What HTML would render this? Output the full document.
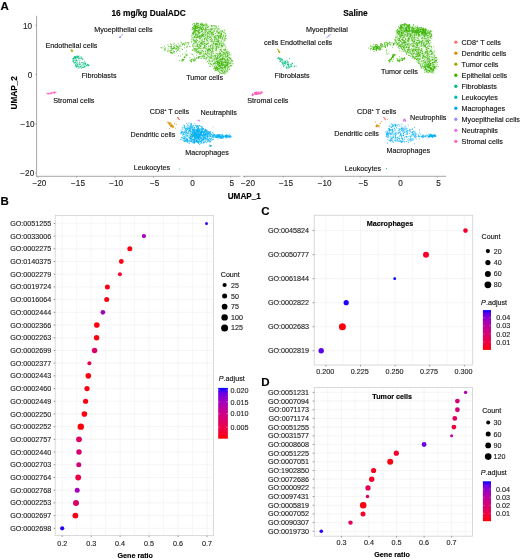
<!DOCTYPE html>
<html><head><meta charset="utf-8"><title>Figure</title>
<style>
html,body{margin:0;padding:0;background:#fff;}
body{width:520px;height:559px;overflow:hidden;}
svg{display:block;font-family:'Liberation Sans', Arial, Helvetica, sans-serif;}
text{stroke-width:0.14px;}
</style></head><body>
<svg width="520" height="559" viewBox="0 0 520 559">
<rect width="520" height="559" fill="#fff"/>
<text x="0.60" y="9.90" font-size="11.5" font-weight="bold" fill="#000" stroke="#000">A</text>
<text x="148.60" y="15.80" font-size="8.3" text-anchor="middle" font-weight="bold" fill="#000" stroke="#000">16 mg/kg DualADC</text>
<text x="355.50" y="15.80" font-size="8.3" text-anchor="middle" font-weight="bold" fill="#000" stroke="#000">Saline</text>
<line x1="36.60" y1="15.80" x2="36.60" y2="176.60" stroke="#8a8a8a" stroke-width="0.75"/>
<line x1="36.30" y1="176.30" x2="240.50" y2="176.30" stroke="#8a8a8a" stroke-width="0.75"/>
<line x1="242.80" y1="176.30" x2="446.20" y2="176.30" stroke="#8a8a8a" stroke-width="0.75"/>
<line x1="35.30" y1="25.30" x2="36.60" y2="25.30" stroke="#8a8a8a" stroke-width="0.7"/>
<text x="32.10" y="28.54" font-size="8.2" text-anchor="end" fill="#262626" stroke="#262626">10</text>
<line x1="35.30" y1="74.60" x2="36.60" y2="74.60" stroke="#8a8a8a" stroke-width="0.7"/>
<text x="32.30" y="77.79" font-size="8.2" text-anchor="end" fill="#262626" stroke="#262626">0</text>
<line x1="35.30" y1="123.90" x2="36.60" y2="123.90" stroke="#8a8a8a" stroke-width="0.7"/>
<text x="34.50" y="127.29" font-size="8.2" text-anchor="end" fill="#262626" stroke="#262626">−10</text>
<line x1="35.30" y1="173.20" x2="36.60" y2="173.20" stroke="#8a8a8a" stroke-width="0.7"/>
<text x="34.20" y="176.34" font-size="8.2" text-anchor="end" fill="#262626" stroke="#262626">−20</text>
<line x1="38.00" y1="176.30" x2="38.00" y2="177.60" stroke="#8a8a8a" stroke-width="0.7"/>
<text x="39.35" y="185.95" font-size="8.2" text-anchor="middle" fill="#262626" stroke="#262626">−20</text>
<line x1="244.70" y1="176.30" x2="244.70" y2="177.60" stroke="#8a8a8a" stroke-width="0.7"/>
<text x="248.00" y="185.95" font-size="8.2" text-anchor="middle" fill="#262626" stroke="#262626">−20</text>
<line x1="76.52" y1="176.30" x2="76.52" y2="177.60" stroke="#8a8a8a" stroke-width="0.7"/>
<text x="78.00" y="185.95" font-size="8.2" text-anchor="middle" fill="#262626" stroke="#262626">−15</text>
<line x1="283.22" y1="176.30" x2="283.22" y2="177.60" stroke="#8a8a8a" stroke-width="0.7"/>
<text x="286.00" y="185.95" font-size="8.2" text-anchor="middle" fill="#262626" stroke="#262626">−15</text>
<line x1="115.04" y1="176.30" x2="115.04" y2="177.60" stroke="#8a8a8a" stroke-width="0.7"/>
<text x="116.10" y="185.95" font-size="8.2" text-anchor="middle" fill="#262626" stroke="#262626">−10</text>
<line x1="321.74" y1="176.30" x2="321.74" y2="177.60" stroke="#8a8a8a" stroke-width="0.7"/>
<text x="324.70" y="185.95" font-size="8.2" text-anchor="middle" fill="#262626" stroke="#262626">−10</text>
<line x1="153.56" y1="176.30" x2="153.56" y2="177.60" stroke="#8a8a8a" stroke-width="0.7"/>
<text x="154.60" y="185.95" font-size="8.2" text-anchor="middle" fill="#262626" stroke="#262626">−5</text>
<line x1="360.26" y1="176.30" x2="360.26" y2="177.60" stroke="#8a8a8a" stroke-width="0.7"/>
<text x="363.40" y="185.95" font-size="8.2" text-anchor="middle" fill="#262626" stroke="#262626">−5</text>
<line x1="192.08" y1="176.30" x2="192.08" y2="177.60" stroke="#8a8a8a" stroke-width="0.7"/>
<text x="192.50" y="185.95" font-size="8.2" text-anchor="middle" fill="#262626" stroke="#262626">0</text>
<line x1="398.78" y1="176.30" x2="398.78" y2="177.60" stroke="#8a8a8a" stroke-width="0.7"/>
<text x="400.60" y="185.95" font-size="8.2" text-anchor="middle" fill="#262626" stroke="#262626">0</text>
<line x1="230.60" y1="176.30" x2="230.60" y2="177.60" stroke="#8a8a8a" stroke-width="0.7"/>
<text x="231.70" y="185.95" font-size="8.2" text-anchor="middle" fill="#262626" stroke="#262626">5</text>
<line x1="437.30" y1="176.30" x2="437.30" y2="177.60" stroke="#8a8a8a" stroke-width="0.7"/>
<text x="438.50" y="185.95" font-size="8.2" text-anchor="middle" fill="#262626" stroke="#262626">5</text>
<text x="244.30" y="199.40" font-size="8.2" text-anchor="middle" font-weight="bold" fill="#000" stroke="#000">UMAP_1</text>
<text x="0" y="0" font-size="8.2" font-weight="bold" fill="#000" stroke="#000" text-anchor="middle" transform="translate(17.3 92.9) rotate(-90)">UMAP_2</text>
<polygon points="193,24 200,22.8 207,23.8 213,25.3 218,26.8 222,29 225.5,32 226,37 225,42 225,46 227,50 230,54 232,58 232.5,63 231,68 228.5,72 224,74 219,73.5 215,70.5 211,66 207.5,62 204,58 200,55 197,52 194,48.5 192.5,44 192,38 192,32 192.3,27" fill="#39B600" fill-opacity="0.10"/>
<path d="M205.2 29.9h0M214.2 41.5h0M194.4 48.5h0M193.9 45.1h0M195.6 27.7h0M196.6 34.1h0M218.0 71.1h0M215.6 43.5h0M197.7 27.3h0M199.4 52.7h0M218.0 41.4h0M215.0 25.9h0M194.0 32.9h0M219.8 44.0h0M204.0 54.1h0M211.2 38.9h0M225.1 59.0h0M200.7 53.0h0M214.1 67.9h0M220.2 38.4h0M209.9 61.2h0M198.2 48.4h0M222.9 52.9h0M220.2 53.7h0M215.5 45.2h0M225.3 73.3h0M211.4 57.7h0M226.1 38.5h0M208.0 56.6h0M198.8 27.5h0M197.1 36.1h0M193.8 45.9h0M214.8 68.9h0M224.6 66.6h0M202.0 43.4h0M199.5 36.1h0M200.7 48.6h0M216.1 35.9h0M208.4 50.1h0M230.6 58.3h0M214.3 55.6h0M230.0 62.8h0M228.1 64.6h0M208.2 43.5h0M194.4 26.0h0M199.6 32.4h0M205.5 24.1h0M196.3 41.4h0M217.0 31.6h0M202.1 40.4h0M206.2 29.1h0M210.6 47.7h0M197.6 28.3h0M205.3 37.7h0M214.0 30.9h0M227.5 59.0h0M203.0 42.5h0M214.3 63.6h0M205.0 34.2h0M224.4 73.9h0M227.1 63.8h0M225.5 62.5h0M202.0 48.5h0M206.3 24.7h0M193.1 37.4h0M201.7 34.6h0M199.2 33.8h0M217.2 69.0h0M218.1 62.8h0M228.0 62.6h0M221.7 45.4h0M222.1 30.7h0M196.7 30.9h0M227.0 65.0h0M205.7 51.3h0M197.0 23.7h0M225.5 33.6h0M201.0 36.8h0M201.7 53.8h0M202.1 44.6h0M206.4 46.6h0M216.3 68.1h0M212.5 49.9h0M209.6 31.6h0M198.4 46.3h0M220.6 53.0h0M206.4 49.3h0M215.0 62.3h0M200.2 35.7h0M223.4 49.8h0M214.7 61.0h0M216.6 48.0h0M211.8 58.1h0M210.0 49.6h0M219.7 67.0h0M197.1 46.4h0M194.8 36.6h0M222.6 68.9h0M218.0 30.0h0M208.2 48.1h0M199.3 44.5h0M212.0 40.0h0M200.1 38.6h0M215.0 46.5h0M191.8 40.0h0M218.0 47.7h0M224.1 72.4h0M195.3 37.3h0M203.1 29.1h0M225.5 36.5h0M215.6 59.1h0M195.9 24.9h0M219.6 44.7h0M215.8 65.3h0M210.1 39.4h0M201.6 29.6h0M213.4 34.6h0M196.1 30.5h0M193.5 33.1h0M204.2 38.9h0M222.7 37.7h0M212.5 32.8h0M206.5 23.9h0M202.0 23.0h0M221.5 51.5h0M199.8 46.8h0M211.1 64.5h0M208.1 49.4h0M220.1 72.2h0M220.5 55.5h0M207.8 40.8h0M194.1 28.9h0M201.5 31.7h0M227.5 56.5h0M202.7 35.8h0M204.3 46.1h0M199.5 45.4h0M203.8 41.8h0M211.1 48.8h0M200.2 48.0h0M191.4 36.2h0M196.6 42.6h0M194.6 24.1h0M203.6 34.9h0M216.1 49.3h0M220.9 56.7h0M220.2 68.1h0M206.5 39.4h0M220.8 54.7h0M228.0 55.0h0M221.3 63.6h0M197.8 48.4h0M212.8 65.9h0M225.7 65.7h0M215.9 68.7h0M219.7 57.4h0M202.3 24.8h0M197.2 40.5h0M215.6 55.3h0M216.6 58.1h0M225.6 61.1h0M212.6 49.9h0M221.4 36.4h0M197.1 36.5h0M221.5 33.8h0M221.8 73.3h0M212.6 41.7h0M210.7 57.8h0M223.6 54.6h0M198.8 34.9h0M222.4 38.0h0M194.5 36.8h0M218.6 58.1h0M218.6 37.9h0M212.3 46.3h0M211.0 28.4h0M226.0 71.9h0M210.8 36.7h0M199.8 52.4h0M197.2 49.4h0M225.0 50.1h0M227.6 59.9h0M210.6 37.4h0M196.1 40.9h0M228.2 59.8h0M207.8 43.2h0M206.5 44.5h0M203.3 25.1h0M201.7 36.2h0M213.5 32.1h0M228.1 63.6h0M217.1 68.6h0M221.5 46.3h0M222.7 55.5h0M204.0 25.1h0M211.4 40.6h0M218.9 36.5h0M213.7 43.5h0M198.7 32.6h0M212.0 33.7h0M211.2 30.3h0M201.1 27.8h0M205.7 28.0h0M201.2 35.7h0M214.7 68.1h0M222.9 43.6h0M209.0 49.3h0M207.9 38.3h0M194.4 37.1h0M211.7 55.7h0M203.1 36.4h0M208.8 46.1h0M230.5 65.5h0M225.3 66.3h0M196.6 30.4h0M215.2 56.6h0M230.9 59.4h0M218.1 62.6h0M210.5 50.2h0M218.4 38.2h0M195.8 35.8h0M217.1 58.1h0M196.9 26.6h0M213.0 54.1h0M208.0 33.8h0M204.4 46.3h0M229.3 54.7h0M200.6 36.8h0M230.8 58.7h0M204.1 24.6h0M212.2 58.5h0M209.5 37.1h0M218.9 70.4h0M200.9 24.4h0M204.5 43.9h0M219.0 32.5h0M225.1 60.8h0M213.3 33.9h0M225.8 35.3h0M211.7 32.9h0M200.8 43.8h0M219.8 72.8h0M197.3 44.1h0M198.3 24.9h0M194.6 43.2h0M228.6 67.8h0M218.0 42.2h0M207.7 40.3h0M203.8 41.5h0M193.3 47.0h0M200.0 42.1h0M193.5 26.4h0M222.4 70.2h0M204.3 36.7h0M206.5 37.1h0M227.9 55.3h0M200.5 46.7h0M207.8 36.8h0M209.7 48.5h0M225.2 60.7h0M224.7 62.3h0M216.8 39.4h0M204.5 41.1h0M201.0 25.4h0M202.7 26.9h0M195.9 49.3h0M220.9 45.7h0M200.7 43.4h0M217.4 56.7h0M222.6 65.4h0M219.0 29.0h0M215.6 41.6h0M221.6 33.2h0M202.1 36.5h0M215.2 39.1h0M212.3 35.0h0M224.9 56.7h0M210.3 66.4h0M227.3 69.6h0M192.8 37.9h0M197.1 31.0h0M216.2 53.5h0M201.1 42.6h0M198.4 32.2h0M203.3 54.1h0M218.1 33.6h0M193.5 39.3h0M219.5 31.9h0M205.4 31.8h0M225.2 50.2h0M195.2 26.9h0M207.4 50.6h0M218.4 26.4h0M209.0 36.9h0M205.5 51.6h0M206.8 44.0h0M207.9 32.7h0M221.5 34.6h0M210.7 31.6h0M217.5 69.5h0M205.5 48.7h0M197.5 36.3h0M195.5 48.7h0M224.9 71.3h0M201.2 28.8h0M211.3 25.7h0M227.9 53.5h0M223.3 35.0h0M201.5 42.2h0M213.8 42.5h0M197.3 35.5h0M221.6 68.1h0M215.7 50.5h0M217.1 38.9h0M208.2 53.7h0M208.8 56.1h0M210.6 45.5h0M211.6 34.1h0M222.3 61.7h0M211.3 32.7h0M212.4 28.6h0M197.4 45.4h0M196.4 45.3h0M218.0 28.5h0M220.6 61.7h0M212.1 26.1h0M213.2 41.9h0M222.1 64.5h0M224.1 70.1h0M194.6 40.8h0M223.4 32.4h0M199.2 36.6h0M212.5 39.8h0M194.2 32.6h0M220.1 68.0h0M195.5 51.1h0M218.6 40.6h0M228.2 51.7h0M213.8 68.6h0M216.8 43.8h0M223.8 35.9h0M208.9 31.7h0M225.9 35.3h0M214.5 58.2h0M194.6 30.9h0M216.6 44.1h0M196.2 34.8h0M197.2 40.4h0M201.1 52.5h0M215.7 33.6h0M218.7 46.7h0M202.4 31.2h0M227.1 62.7h0M207.4 37.1h0M214.4 40.3h0M218.2 44.9h0M229.3 60.2h0M209.4 34.8h0M200.4 52.9h0M211.2 56.9h0M224.7 30.7h0M204.5 38.6h0M222.5 58.8h0M222.4 46.0h0M222.6 46.6h0M201.4 27.9h0M201.4 24.4h0M220.1 66.3h0M220.6 37.1h0M216.2 44.8h0M224.2 50.1h0M203.2 55.5h0M202.2 35.6h0M222.5 71.5h0M221.7 40.0h0M218.1 58.1h0M219.4 74.4h0M209.7 66.2h0M219.5 65.8h0M209.5 60.3h0M215.1 37.8h0M199.6 54.3h0M197.9 23.6h0M204.9 31.2h0M192.6 24.8h0M219.7 54.9h0M220.3 60.3h0M225.6 67.6h0M195.3 34.7h0M196.5 25.1h0M227.1 64.8h0M217.7 64.0h0M216.5 38.2h0M196.5 28.2h0M221.5 31.9h0M204.2 43.7h0M193.0 35.3h0M208.0 38.8h0M226.1 55.0h0M193.5 43.3h0M210.2 63.7h0M205.2 58.7h0M213.1 32.6h0M192.5 33.6h0M223.5 73.2h0M210.5 63.6h0M199.0 47.3h0M202.7 34.3h0M220.1 49.6h0M220.6 61.8h0M218.0 41.9h0M208.3 42.2h0M201.6 35.4h0M201.4 45.1h0M212.7 60.3h0M223.2 56.7h0M205.8 38.6h0M218.8 61.0h0M197.8 44.5h0M223.3 52.9h0M197.2 46.8h0M198.9 36.5h0M220.7 65.4h0M198.2 30.5h0M202.4 39.0h0M214.1 31.1h0M205.6 32.9h0M232.2 60.4h0M194.9 42.0h0M233.1 63.8h0M222.1 45.4h0M195.9 32.9h0M207.3 25.3h0M220.3 49.6h0M218.0 47.8h0M208.7 59.9h0M216.4 61.4h0M209.9 34.6h0M221.0 68.0h0M222.6 57.8h0M225.9 57.2h0M217.1 46.0h0M204.9 56.4h0M197.2 44.2h0M224.3 59.2h0M217.8 35.6h0M208.8 46.2h0M216.2 44.1h0M219.1 69.7h0M223.3 43.1h0M213.4 59.9h0M213.1 56.6h0M224.8 49.4h0M208.2 62.9h0M206.6 26.2h0M202.1 42.9h0M210.2 58.4h0M207.8 35.9h0M207.7 32.6h0M225.2 55.5h0M212.4 51.7h0M206.1 54.5h0M225.1 65.2h0M211.5 38.7h0M214.8 29.2h0M207.7 35.9h0M208.3 33.5h0M203.6 34.6h0M204.5 47.6h0M210.0 56.4h0M216.6 41.7h0M230.7 65.9h0M227.4 63.1h0M218.8 35.8h0M195.3 29.8h0M206.2 31.1h0M230.1 63.5h0M216.2 61.2h0M219.8 68.5h0M223.8 65.1h0M214.0 59.5h0M214.6 36.4h0M201.7 30.8h0M211.9 25.9h0M211.5 29.1h0M211.7 48.4h0M214.5 66.4h0M211.5 51.9h0M217.9 64.8h0M206.2 44.3h0M217.9 55.9h0M220.2 70.1h0M213.4 48.2h0M221.4 55.1h0M205.9 47.3h0M212.6 61.4h0M200.3 45.2h0M209.1 50.9h0M224.8 37.9h0M211.9 35.7h0M218.6 64.4h0M205.1 38.3h0M205.1 54.0h0M217.5 62.8h0M194.2 40.2h0M192.3 33.2h0M229.6 52.7h0M217.9 62.3h0M229.1 54.2h0M218.2 54.7h0M220.4 53.4h0M219.7 35.3h0M219.2 47.3h0M200.2 24.3h0M223.8 69.3h0M218.6 41.8h0M225.3 62.7h0M215.9 35.8h0M204.7 45.6h0M205.3 45.6h0M219.0 71.4h0M194.8 27.9h0M226.2 52.3h0M191.4 42.2h0M215.0 70.8h0M207.7 27.3h0M218.3 33.8h0M197.6 23.4h0M197.2 23.8h0M221.1 35.0h0M222.3 31.3h0M220.6 66.7h0M217.2 58.7h0M211.4 26.0h0M207.8 52.1h0M209.6 57.7h0M206.5 54.5h0M217.7 43.9h0M229.9 63.4h0M215.0 37.4h0M219.0 64.0h0M205.5 53.7h0M231.9 65.5h0M216.0 37.7h0M206.5 57.8h0M215.6 69.2h0M223.8 36.1h0M191.9 35.0h0M210.3 52.1h0M225.0 68.1h0M224.3 66.0h0M213.9 37.4h0M227.2 65.6h0M218.7 70.0h0M206.0 27.7h0M214.1 64.1h0M217.2 57.9h0M211.9 33.3h0M225.1 45.8h0M224.4 32.8h0M215.5 68.2h0M211.3 53.7h0M200.2 32.7h0M207.9 50.7h0M207.7 50.3h0M198.3 23.6h0M224.1 30.0h0M217.2 41.3h0M214.6 37.1h0M223.0 45.3h0M230.7 62.0h0M224.2 71.9h0M200.7 24.3h0M198.8 32.9h0M194.7 23.7h0M215.0 67.6h0M215.9 44.6h0M203.0 51.7h0M217.5 69.7h0M219.5 43.6h0M209.7 30.0h0M201.0 23.6h0M202.4 41.4h0M229.6 69.3h0M224.0 59.7h0M195.2 30.0h0M221.7 70.3h0M218.5 37.5h0M215.9 61.8h0M196.4 39.4h0M202.2 29.5h0M212.1 32.0h0M202.7 29.9h0M220.9 34.0h0M227.2 68.6h0M197.4 46.4h0M225.8 54.3h0M210.3 39.9h0M225.9 47.0h0M217.5 30.0h0M201.2 25.3h0M221.7 50.1h0M202.5 43.4h0M198.8 36.7h0M199.1 47.7h0M218.6 32.8h0M211.1 37.1h0M202.6 33.4h0M196.6 37.5h0M220.9 37.1h0M224.7 40.5h0M227.1 49.9h0M200.8 46.4h0M214.4 30.7h0M221.6 33.8h0M195.2 27.9h0M216.3 48.1h0M203.1 34.6h0M216.7 59.7h0M224.9 52.1h0M200.4 26.6h0M221.2 44.1h0M224.3 39.3h0M226.3 66.9h0M206.2 30.0h0M207.0 53.4h0M209.7 49.3h0M224.0 67.4h0M207.7 61.5h0M212.4 50.0h0M199.5 28.8h0M193.4 27.9h0M219.8 33.4h0M216.2 49.2h0M227.7 59.7h0M193.8 28.2h0M213.2 47.1h0M203.5 28.8h0M209.2 29.5h0M216.0 67.3h0M198.3 51.8h0M222.7 31.5h0M226.1 70.4h0M207.7 44.1h0M225.4 49.9h0M223.8 41.1h0M201.5 40.2h0M225.4 69.5h0M225.1 66.3h0M201.6 43.7h0M218.4 41.6h0M213.4 25.5h0M209.6 49.5h0M192.0 29.3h0M232.0 63.6h0M231.0 54.8h0M225.2 67.6h0M218.3 36.2h0M219.6 37.7h0M217.4 35.5h0M213.1 45.2h0M204.0 56.1h0M203.3 47.8h0M212.2 29.6h0M196.2 30.1h0M205.6 43.7h0M203.8 36.1h0M224.3 53.9h0M212.9 56.2h0M210.3 50.5h0M217.1 46.4h0M205.3 35.2h0M201.2 50.8h0M207.2 53.4h0M191.9 41.7h0M215.2 48.1h0M199.1 27.3h0M195.5 42.7h0M209.8 61.2h0M195.4 33.9h0M231.2 61.0h0M199.5 41.3h0M206.5 57.7h0M216.0 66.2h0M225.4 49.2h0M222.0 61.3h0M222.1 46.7h0M222.6 59.9h0M222.3 51.6h0M215.7 44.0h0M224.4 67.2h0M218.1 42.7h0M210.4 46.3h0M221.1 38.4h0M209.2 50.9h0M206.8 39.7h0M224.6 65.3h0M211.8 44.8h0M199.8 38.7h0M197.4 51.5h0M216.0 25.9h0M226.6 65.6h0M216.2 49.0h0M228.9 62.2h0M212.8 48.8h0M219.8 43.4h0M205.4 53.1h0M220.4 50.2h0M195.4 41.4h0M207.6 50.4h0M216.0 67.9h0M209.3 53.8h0M213.2 64.2h0M200.1 38.8h0M231.7 65.8h0M213.2 28.3h0M226.7 59.1h0M198.7 37.3h0M212.7 48.0h0M199.0 31.1h0M217.9 54.0h0M208.8 63.7h0M204.8 58.2h0M191.6 38.8h0M226.9 53.2h0M219.9 32.5h0M211.5 52.0h0M202.4 56.1h0M215.1 43.9h0M196.7 30.5h0M194.8 32.8h0M213.3 63.6h0M216.2 63.3h0M222.7 37.6h0M221.4 42.0h0M198.7 37.0h0M216.0 39.8h0M211.1 41.4h0M209.4 54.3h0M203.0 25.1h0M229.6 66.0h0M225.1 38.4h0M202.3 43.7h0M221.6 34.1h0M211.5 64.5h0M202.0 31.7h0M207.7 33.4h0M215.1 28.6h0M213.2 43.3h0M208.0 26.8h0M205.7 35.4h0M200.0 37.4h0M201.8 24.8h0M218.1 39.5h0M195.7 37.8h0M206.2 59.2h0M212.0 34.5h0M211.1 29.1h0M221.0 36.3h0M228.2 52.2h0M206.8 34.9h0M217.0 32.5h0M213.5 51.1h0M208.0 57.5h0M215.4 37.5h0M207.8 27.5h0M204.5 56.0h0M206.9 48.8h0M203.7 26.0h0M204.3 34.0h0M203.4 44.2h0M227.7 62.2h0M228.9 67.1h0M197.5 37.5h0M218.2 40.0h0M207.6 55.5h0M220.5 36.1h0M217.2 31.6h0M222.0 59.7h0M193.8 23.5h0M198.2 31.2h0M204.4 41.7h0M193.1 39.7h0M218.8 32.3h0M226.2 52.1h0M220.6 35.8h0M210.9 57.2h0M225.3 62.7h0M204.2 25.6h0M225.9 53.8h0M193.7 34.5h0M220.2 42.6h0M222.9 65.5h0M202.9 27.5h0M229.4 57.8h0M221.6 66.0h0M217.2 44.8h0M208.8 49.6h0M221.9 63.3h0M202.3 50.6h0M213.1 35.9h0M194.4 41.3h0M210.2 32.9h0M205.1 30.4h0M220.2 56.7h0M202.7 35.7h0M213.0 44.8h0M198.3 52.0h0M215.7 62.7h0M216.8 46.6h0M223.1 65.0h0M196.8 37.8h0M207.0 34.1h0M194.7 36.8h0M210.7 29.6h0M204.6 47.1h0M207.1 31.8h0M232.5 61.2h0M196.3 49.0h0M210.8 31.6h0M227.5 56.1h0M217.0 70.3h0M217.3 35.9h0M201.9 29.5h0M226.9 71.9h0M226.6 61.6h0M205.0 32.7h0M225.4 40.0h0M207.3 51.0h0M202.1 24.4h0M215.5 56.0h0M225.0 59.3h0M227.5 71.8h0M212.6 47.7h0M199.6 38.2h0M214.4 26.0h0M220.5 31.0h0M196.4 23.8h0M209.7 33.2h0M225.6 67.1h0M223.6 44.8h0M203.7 58.2h0M212.0 44.9h0M206.6 44.5h0M219.0 66.7h0M204.7 43.5h0M214.7 39.5h0M200.1 26.7h0M204.7 45.8h0M219.6 53.7h0M203.4 51.9h0M218.5 37.5h0M193.9 31.3h0M219.8 45.4h0M208.1 52.1h0M208.4 49.0h0M216.2 43.5h0M195.9 31.8h0M201.6 28.7h0M213.8 34.3h0M212.0 51.8h0M201.2 52.4h0M196.5 49.2h0M216.0 26.4h0M208.8 26.7h0M214.3 58.9h0M231.4 59.9h0M208.4 29.9h0M201.2 42.8h0M201.3 37.7h0M221.6 43.9h0M227.5 55.9h0M227.0 51.5h0M228.0 66.7h0M218.8 65.0h0M195.7 42.6h0M221.6 70.9h0M216.0 28.4h0M215.3 63.6h0M220.4 36.9h0M200.7 45.9h0M224.9 53.0h0M196.3 24.0h0M198.2 51.0h0M207.6 29.5h0M220.1 65.3h0M206.0 30.1h0M221.1 41.4h0M210.6 31.2h0M227.0 52.5h0M195.3 40.2h0M198.3 42.3h0M211.3 53.2h0M206.7 40.9h0M206.6 25.2h0M194.7 30.3h0M219.3 36.3h0M203.8 47.9h0M202.7 50.5h0M213.7 63.5h0M227.4 62.6h0M216.1 55.3h0M208.1 36.2h0M222.6 67.4h0M229.7 57.5h0M221.1 47.9h0M216.9 41.2h0M214.3 44.1h0M193.7 40.5h0M211.2 41.7h0M202.5 34.8h0M205.9 28.6h0M210.4 46.1h0M214.6 38.2h0M197.6 25.3h0M204.5 39.5h0M221.2 49.9h0M195.0 30.9h0M194.6 48.9h0M202.6 23.9h0M199.4 36.3h0M220.8 34.1h0M208.5 32.0h0M216.9 67.6h0M216.7 31.0h0M221.1 73.1h0M216.4 27.3h0M225.2 68.2h0M205.4 29.4h0M199.9 50.7h0M227.9 55.8h0M217.9 44.3h0M219.8 40.8h0M192.6 44.7h0M203.9 48.3h0M215.8 36.0h0M216.5 59.7h0M205.5 27.8h0M197.8 28.4h0M224.4 44.8h0M213.2 53.2h0M214.2 55.8h0M217.2 40.9h0M221.9 36.0h0M221.5 61.0h0M222.8 39.4h0M223.9 72.5h0M209.8 37.3h0M196.4 22.9h0M211.1 54.7h0M164.5 46.2h0M178.3 49.8h0M170.5 52.9h0M177.0 46.6h0M174.9 47.7h0M171.3 52.3h0M170.8 48.1h0M174.8 45.8h0M172.0 49.0h0M184.4 45.0h0M171.5 46.5h0M171.2 52.5h0M176.7 45.2h0M170.3 51.4h0M165.0 49.9h0M173.5 44.2h0M182.0 49.2h0M165.6 49.0h0M173.5 46.5h0M167.9 44.7h0M181.9 44.0h0M170.9 50.5h0M161.8 48.1h0M181.1 42.4h0M173.6 51.1h0M177.8 47.2h0M170.4 46.6h0M171.9 49.9h0M184.4 47.9h0M172.8 49.7h0M177.7 50.4h0M172.7 53.0h0M179.1 45.6h0M171.7 45.1h0M169.9 50.7h0M168.1 49.0h0M175.2 45.2h0M188.6 43.0h0M164.6 50.8h0M178.2 46.9h0M188.9 43.0h0M184.1 43.2h0M187.0 47.1h0M182.5 45.0h0M182.6 49.5h0M163.0 47.7h0M182.4 44.5h0M180.3 45.2h0M171.5 52.6h0M173.2 48.6h0M174.1 51.9h0M172.4 52.9h0M174.7 43.4h0M183.2 43.7h0M181.1 42.6h0M183.0 43.5h0M179.7 46.3h0M167.7 51.4h0M161.0 47.5h0M187.7 42.4h0M174.4 47.4h0M170.6 52.7h0M185.3 43.4h0M165.8 47.8h0M170.4 43.9h0M184.4 44.9h0M188.3 44.5h0M179.6 48.1h0M186.5 47.1h0M183.1 44.7h0M174.4 51.5h0M165.0 49.9h0M177.2 46.7h0M174.6 47.7h0M168.3 46.2h0M177.2 50.8h0M178.3 43.9h0M187.5 46.2h0M164.4 48.7h0M190.0 46.4h0M171.3 48.0h0M176.1 48.7h0M175.9 49.5h0M171.2 46.8h0M178.6 47.6h0M168.9 51.8h0M171.3 46.8h0M177.1 46.5h0M171.2 50.4h0M171.4 53.0h0M174.3 53.3h0M174.4 48.6h0M171.9 48.1h0M172.4 48.5h0M176.5 46.2h0M171.1 44.7h0M178.8 48.4h0M174.0 48.4h0M177.2 49.1h0M176.7 48.2h0M173.6 48.4h0M168.0 50.5h0M169.0 46.7h0M176.1 48.6h0M176.6 51.6h0M180.0 51.0h0M173.3 52.2h0M171.2 48.3h0M177.2 48.1h0M173.6 47.9h0M227.7 67.3h0M221.7 64.8h0M217.6 67.5h0M228.3 61.7h0M220.5 59.6h0M221.1 55.7h0M215.9 70.3h0M221.9 64.8h0M223.4 64.4h0M215.1 57.3h0M224.8 67.0h0M216.8 59.1h0M217.2 65.3h0M223.5 62.2h0M219.1 63.7h0M222.1 58.3h0M223.5 58.7h0M226.3 65.1h0M218.9 64.9h0M222.3 58.5h0M217.9 53.7h0M216.9 63.7h0M227.4 58.9h0M222.7 63.7h0M225.5 64.2h0M227.5 65.8h0M218.6 64.0h0M211.5 61.1h0M222.1 64.9h0M220.6 66.2h0M227.9 57.8h0M219.6 63.3h0M224.2 62.7h0M225.7 56.1h0M225.5 67.8h0M227.0 64.1h0M220.9 64.0h0M221.7 54.1h0M219.3 61.8h0M219.7 57.3h0M221.0 60.1h0M222.3 61.8h0M222.8 67.0h0M222.6 64.0h0M216.5 47.3h0M220.2 65.4h0M220.5 58.9h0M216.4 66.5h0M219.6 63.2h0M227.1 64.7h0M232.1 61.3h0M226.3 65.5h0M219.1 62.2h0M219.5 56.9h0M223.3 58.1h0M229.6 58.3h0M219.6 62.5h0M219.7 62.3h0M219.3 54.9h0M211.1 55.6h0M228.8 64.2h0M222.7 59.7h0M221.3 63.5h0M215.7 58.0h0M218.0 68.3h0M217.2 67.9h0M221.6 62.2h0M228.1 66.4h0M226.2 56.7h0M227.1 70.4h0M221.5 59.6h0M217.1 67.1h0M223.3 62.0h0M216.4 70.1h0M225.9 61.9h0M228.6 57.2h0M226.0 57.0h0M228.3 60.6h0M227.5 59.9h0M223.8 67.7h0M217.9 62.5h0M218.2 66.3h0M219.3 60.1h0M221.1 67.8h0M217.3 61.9h0M220.5 59.3h0M218.5 61.2h0M222.9 54.3h0M223.1 56.1h0M222.1 73.4h0M217.6 61.7h0M220.9 66.9h0M219.9 53.1h0M214.8 62.9h0M223.1 67.3h0M219.6 65.3h0M217.2 68.5h0M221.7 58.6h0M222.8 70.7h0M218.2 55.8h0M217.4 56.2h0M221.8 63.8h0M221.3 63.0h0M227.3 60.6h0M216.4 50.6h0M223.1 58.6h0M220.9 64.0h0M224.1 54.2h0M217.7 62.4h0M221.4 67.7h0M219.7 51.7h0M227.3 53.8h0M217.6 63.9h0M223.1 64.7h0M220.0 73.1h0M224.4 58.4h0M227.6 53.6h0M219.4 63.4h0M222.6 57.2h0M229.1 69.4h0M217.8 63.9h0M219.1 59.8h0M226.4 62.6h0M221.5 62.5h0M216.7 68.1h0M218.6 68.5h0M219.9 59.7h0M228.7 63.0h0M219.1 59.3h0M224.7 71.4h0M224.8 60.0h0M217.0 58.6h0M221.5 63.2h0M219.1 68.4h0M217.7 58.4h0M224.2 64.4h0M220.2 66.8h0M215.7 70.2h0M222.5 71.8h0M222.2 68.6h0M221.1 63.0h0M224.4 53.3h0M221.1 70.6h0M226.1 63.6h0M222.9 68.9h0M223.5 52.5h0M217.8 60.5h0M222.6 59.8h0M221.5 70.3h0M226.2 65.0h0M222.1 62.3h0M223.6 63.2h0M218.7 65.9h0M218.3 61.8h0M220.4 56.2h0M224.7 61.7h0M216.8 61.6h0M215.8 69.2h0M224.3 71.9h0M219.5 65.5h0M217.7 57.7h0M221.6 64.1h0M226.2 60.7h0M200.9 31.9h0M193.9 28.5h0M193.8 34.1h0M195.1 31.6h0M200.2 28.2h0M195.3 30.0h0M194.3 25.2h0M193.6 30.0h0M197.7 34.3h0M193.0 32.5h0M199.4 29.4h0M202.1 27.9h0M195.2 25.9h0M194.7 29.3h0M199.3 32.8h0M196.1 26.8h0M195.8 27.7h0M195.4 27.8h0M194.0 28.8h0M195.2 28.5h0M192.2 29.4h0M199.0 30.9h0M195.1 25.6h0M194.8 28.1h0M194.5 31.5h0M203.4 27.9h0M196.0 27.8h0M196.3 28.5h0M205.6 25.8h0M196.6 26.7h0M198.2 27.5h0M199.0 25.8h0M204.3 29.6h0M195.4 25.6h0M198.5 27.5h0M199.6 27.4h0M200.1 29.4h0M198.2 29.5h0M195.7 27.9h0M198.6 31.1h0M195.6 35.6h0M202.9 25.6h0M200.8 28.8h0M197.8 26.7h0M202.7 26.6h0M196.7 26.9h0M203.7 32.7h0M192.4 27.7h0M198.3 27.7h0M195.8 25.8h0M197.9 25.8h0M199.9 36.1h0M195.9 33.9h0M198.3 27.0h0M195.8 26.2h0M197.4 31.1h0M200.2 28.2h0M192.9 28.8h0M202.8 29.8h0M195.5 30.6h0M193.7 33.0h0M195.0 26.4h0M195.0 28.7h0M200.4 27.3h0M198.8 33.5h0M193.1 33.4h0M199.3 30.3h0M194.4 26.4h0M193.7 31.8h0M197.8 32.2h0M203.3 29.1h0M196.8 34.7h0M192.5 27.7h0M186.0 57.0h0M184.0 59.5h0M187.1 54.9h0M186.1 54.7h0M184.0 57.7h0M182.1 59.2h0M182.0 60.2h0M182.9 60.4h0M183.4 59.8h0M182.4 60.0h0M182.7 59.7h0M184.5 57.6h0M184.6 56.9h0M187.0 55.2h0M182.1 61.4h0M181.9 60.9h0M186.0 55.2h0M182.9 59.5h0M186.3 55.3h0M183.8 60.1h0M185.0 56.8h0M184.4 57.5h0M190.8 60.5h0M191.6 59.9h0M196.0 58.7h0M198.7 57.0h0M199.4 57.6h0M191.4 61.2h0M193.4 60.9h0M193.2 60.6h0M193.2 59.4h0M198.5 57.7h0M197.9 58.2h0M190.7 61.8h0M194.2 60.7h0M198.6 58.2h0M200.5 56.6h0M198.2 57.9h0M194.9 60.0h0M193.5 59.7h0M191.6 61.9h0M194.8 59.0h0M194.9 59.5h0M194.6 57.9h0M191.7 59.4h0M195.0 60.2h0M196.8 57.5h0M196.1 58.4h0M192.3 59.0h0M191.1 60.6h0M194.9 61.0h0M190.0 60.2h0M191.8 53.9h0M196.5 50.3h0M180.9 46.6h0M193.7 56.0h0M182.5 54.1h0M192.4 54.5h0M178.5 49.7h0M185.1 53.1h0M185.4 42.8h0M192.7 46.3h0M195.4 46.7h0M190.0 57.8h0M180.5 56.1h0M179.5 60.6h0M178.6 55.9h0M186.1 44.0h0M186.7 51.0h0M187.1 42.7h0M189.5 46.6h0M199.3 48.4h0M201.7 58.0h0M198.6 57.2h0M196.1 49.8h0M199.8 53.1h0M196.5 55.0h0M192.2 49.8h0M193.4 50.3h0M195.8 50.9h0M201.0 58.4h0M193.5 48.8h0M199.6 56.6h0M197.6 52.9h0M194.6 51.1h0M198.9 56.6h0M201.7 56.2h0M192.6 50.3h0M198.4 52.5h0M202.4 56.9h0M200.5 54.2h0M203.1 56.6h0M196.7 52.4h0M204.0 58.1h0M194.6 49.9h0M196.5 51.2h0M198.5 52.6h0" stroke="#39B600" stroke-width="0.8" stroke-linecap="round" fill="none"/>
<path d="M210.0 133.7h0M193.0 128.7h0M221.9 137.8h0M208.6 139.5h0M189.1 134.1h0M194.0 131.4h0M190.2 138.2h0M210.2 139.1h0M212.6 135.4h0M213.9 136.0h0M203.5 133.0h0M186.7 136.0h0M206.3 131.1h0M203.5 139.0h0M184.7 132.4h0M181.7 133.4h0M201.7 142.5h0M201.9 139.9h0M220.6 134.8h0M192.9 129.5h0M205.6 130.7h0M197.1 135.3h0M202.7 139.7h0M223.9 135.9h0M200.7 128.7h0M208.3 131.8h0M205.6 130.8h0M185.8 138.3h0M221.1 134.8h0M187.4 135.5h0M225.9 136.5h0M194.0 141.9h0M193.8 134.7h0M199.1 129.2h0M219.4 135.8h0M197.0 134.2h0M203.8 134.9h0M213.1 134.6h0M192.7 130.0h0M191.2 137.9h0M208.1 136.0h0M197.2 134.3h0M206.7 131.3h0M198.9 139.4h0M206.3 142.7h0M188.0 141.0h0M200.4 133.7h0M196.6 126.1h0M215.9 134.8h0M186.8 139.8h0M191.4 141.6h0M196.4 136.8h0M192.6 134.4h0M217.0 137.4h0M187.4 139.2h0M185.3 129.0h0M185.3 130.7h0M184.4 138.4h0M184.3 136.8h0M185.6 129.0h0M201.9 132.3h0M193.0 139.8h0M207.5 136.4h0M194.9 129.4h0M197.7 129.0h0M225.1 136.3h0M205.2 130.8h0M203.4 135.4h0M193.6 125.4h0M206.8 139.4h0M188.3 132.2h0M199.6 140.4h0M187.0 136.2h0M203.5 133.0h0M226.5 135.9h0M199.7 139.9h0M191.0 138.5h0M205.3 131.5h0M190.3 139.3h0M199.2 132.0h0M209.6 141.8h0M229.4 136.4h0M199.8 125.4h0M183.2 133.8h0M210.7 131.6h0M197.9 132.3h0M189.5 143.0h0M211.1 134.4h0M202.6 128.8h0M196.7 133.2h0M203.6 143.0h0M184.4 126.2h0M197.5 138.6h0M208.6 133.9h0M214.8 137.2h0M200.2 141.2h0M183.3 133.5h0M203.6 128.6h0M190.4 126.9h0M222.4 134.2h0M230.2 136.5h0M207.3 136.5h0M192.3 140.7h0M181.5 132.0h0M192.9 137.1h0M196.7 137.3h0M198.3 138.2h0M209.9 140.5h0M208.1 132.1h0M191.9 139.4h0M208.5 139.1h0M192.4 136.4h0M220.2 136.2h0M204.4 137.8h0M207.3 135.3h0M196.7 131.1h0M218.5 134.7h0M189.2 137.6h0M186.9 139.0h0M188.4 125.4h0M193.9 133.7h0M194.7 141.6h0M219.6 137.7h0M197.0 127.7h0M201.8 140.7h0M190.9 125.4h0M199.3 125.8h0M189.4 128.9h0M209.3 133.7h0M195.6 134.8h0M220.5 137.2h0M197.5 142.0h0M205.0 129.8h0M187.4 141.4h0M181.7 137.6h0M193.8 133.9h0M205.6 137.1h0M191.0 136.5h0M202.0 143.2h0M190.2 137.6h0M182.8 129.4h0M186.9 128.6h0M200.3 143.7h0M198.5 143.0h0M186.2 141.4h0M221.3 138.4h0M197.8 136.3h0M201.6 138.4h0M199.9 139.6h0M205.0 140.0h0M195.9 133.7h0M216.6 137.5h0M212.4 139.5h0M191.5 126.9h0M226.1 136.5h0M201.8 141.9h0M182.8 137.4h0M205.5 133.3h0M187.9 133.2h0M194.5 127.5h0M204.7 136.3h0M208.6 140.6h0M206.9 133.3h0M197.5 126.5h0M226.6 137.9h0M196.6 137.8h0M191.7 134.3h0M211.0 138.4h0M189.1 130.5h0M191.3 124.9h0M218.1 138.9h0M213.7 139.5h0M207.5 134.2h0M227.7 135.5h0M213.6 135.5h0M205.4 138.9h0M202.5 130.8h0M202.4 135.4h0M199.1 131.3h0M202.1 130.0h0M180.6 139.4h0M200.7 132.0h0M195.2 131.8h0M193.6 129.3h0M204.2 131.3h0M192.0 139.9h0M186.0 135.3h0M183.9 139.0h0M192.5 142.7h0M192.5 130.3h0M203.7 139.9h0M197.4 142.5h0M202.8 136.2h0M196.3 135.7h0M193.2 134.7h0M193.7 139.0h0M187.8 127.7h0M202.5 140.7h0M189.7 127.8h0M197.9 130.1h0M204.9 130.9h0M201.5 141.9h0M193.9 143.4h0M206.7 136.8h0M199.7 129.4h0M187.4 140.8h0M198.5 136.5h0M203.7 134.4h0M190.2 127.0h0M197.7 137.5h0M192.1 141.1h0M192.4 129.2h0M194.8 130.4h0M182.3 127.1h0M194.9 134.8h0M222.2 134.9h0M202.9 128.3h0M185.3 128.0h0M213.7 137.7h0M194.9 129.5h0M182.5 135.2h0M198.5 126.4h0M203.5 142.6h0M192.4 126.7h0M213.2 136.5h0M189.6 127.9h0M206.8 132.9h0M209.1 137.6h0M195.4 139.9h0M201.8 126.6h0M200.1 135.1h0M208.0 132.4h0M197.7 142.2h0M220.9 135.2h0M186.1 128.6h0M185.0 140.1h0M197.1 131.6h0M197.1 126.5h0M219.9 137.8h0M199.0 130.9h0M189.7 139.9h0M203.5 140.1h0M198.4 130.3h0M207.6 137.7h0M194.7 141.5h0M208.9 134.1h0M201.5 134.5h0M185.0 141.1h0M214.8 134.5h0M221.5 137.0h0M207.3 139.7h0M201.2 134.7h0M194.3 143.0h0M220.3 137.9h0M196.7 138.1h0M205.8 139.1h0M198.4 141.6h0M210.2 139.5h0M197.6 136.9h0M183.9 125.2h0M183.9 134.8h0M197.6 128.6h0M209.2 132.3h0M196.7 135.5h0M198.4 143.1h0M186.3 131.0h0M186.6 131.2h0M191.7 123.8h0M195.0 123.7h0M214.4 134.8h0M218.4 136.7h0M203.7 129.2h0M182.5 131.9h0M194.0 139.0h0M197.9 136.0h0M198.6 141.4h0M197.0 129.8h0M188.9 143.2h0M211.4 140.2h0M183.9 134.2h0M194.2 139.6h0M182.2 131.7h0M199.2 134.3h0M192.4 137.8h0M204.0 139.1h0M217.4 136.9h0M208.8 141.0h0M189.4 141.1h0M180.8 133.2h0M190.3 131.5h0M193.7 139.2h0M188.9 123.0h0M219.2 135.0h0M202.4 127.7h0M191.4 124.3h0M190.9 130.9h0M196.7 133.0h0M189.3 131.1h0M204.1 141.6h0M186.4 138.4h0M186.9 134.8h0M204.4 137.6h0M207.9 142.0h0M198.8 128.4h0M213.0 137.7h0M192.9 137.0h0M191.0 129.3h0M195.8 133.4h0M218.8 136.5h0M228.6 136.3h0M181.7 132.3h0M181.9 134.0h0M211.9 134.8h0M194.2 139.7h0M196.8 141.6h0M195.8 135.2h0M207.3 131.0h0M218.2 137.6h0M222.5 136.6h0M193.2 141.7h0M199.3 130.5h0M185.8 137.7h0M198.0 129.6h0M201.7 138.4h0M196.0 140.2h0M217.5 134.5h0M202.1 135.5h0M184.3 125.6h0M196.7 125.9h0M182.9 138.5h0M218.3 135.7h0M190.9 138.4h0M222.6 135.5h0M192.0 134.5h0M201.4 128.9h0M188.1 140.6h0M190.0 128.9h0M197.1 134.7h0M205.1 141.5h0M210.0 136.3h0M210.9 139.5h0M187.8 124.8h0M191.9 135.9h0M186.7 123.4h0M193.5 130.6h0M193.1 128.8h0M197.0 132.2h0M198.4 128.7h0M190.8 140.1h0M205.7 135.4h0M186.7 130.3h0M212.1 137.6h0M212.8 135.6h0M183.9 138.3h0M189.4 130.7h0M190.6 141.2h0M200.9 141.7h0M194.0 134.5h0M187.2 129.0h0M212.2 136.5h0M207.8 140.9h0M193.2 127.2h0M184.3 131.0h0M226.7 136.9h0M184.1 127.7h0M210.7 133.2h0M209.5 135.9h0M184.5 138.9h0M193.6 135.0h0M201.7 134.3h0M217.8 136.6h0M209.7 132.0h0M193.0 139.6h0M191.0 137.9h0M204.4 132.7h0M217.1 137.7h0M204.0 134.0h0M195.4 125.7h0M189.1 131.4h0M198.3 134.0h0M207.1 131.0h0M194.7 130.5h0M197.3 137.9h0M205.8 138.6h0M190.3 130.0h0M201.4 131.3h0M213.8 136.0h0M207.9 135.2h0M184.1 138.7h0M199.1 136.2h0M195.0 142.0h0M199.0 128.8h0M194.5 133.3h0M191.6 139.9h0M184.6 132.2h0M221.1 138.5h0M194.0 126.0h0M190.1 141.6h0M210.6 141.2h0M194.2 141.8h0M229.2 134.3h0M183.9 140.4h0M188.4 128.4h0M210.4 132.8h0M196.4 140.5h0M200.8 132.2h0M192.9 139.5h0M185.7 132.1h0M207.4 139.5h0M183.2 131.8h0M206.9 134.4h0M203.5 129.3h0M222.9 138.3h0M182.1 128.2h0M187.3 139.2h0M186.3 126.9h0M193.7 140.1h0M186.3 139.6h0M212.2 136.0h0M198.8 142.3h0M209.7 141.1h0M198.6 131.5h0M205.1 137.5h0M196.3 134.8h0M193.9 132.8h0M198.1 127.8h0M185.0 137.0h0M203.5 137.8h0M188.3 131.8h0M220.8 137.7h0M190.5 128.5h0M181.8 137.3h0M204.4 133.2h0M195.9 132.4h0M190.6 135.3h0M207.0 133.1h0M216.3 135.2h0M182.0 132.1h0M222.7 136.1h0M186.1 132.6h0M187.7 140.7h0M183.9 134.5h0M230.0 136.3h0M197.8 127.1h0M214.1 136.1h0M185.9 140.0h0M196.5 135.6h0M194.8 131.3h0M194.4 142.8h0M193.7 139.5h0M196.0 125.3h0M205.2 141.0h0M216.4 135.9h0M205.2 136.5h0M196.6 140.5h0M209.2 133.1h0M200.4 135.2h0M181.0 130.2h0M227.3 137.1h0M195.0 140.1h0M214.0 135.5h0M193.0 131.7h0M225.4 137.2h0M206.4 135.0h0M198.5 137.3h0M207.8 133.4h0M194.6 128.3h0M194.7 141.9h0M183.1 140.6h0M229.0 137.0h0M200.5 131.3h0M212.7 132.5h0M220.3 136.4h0M199.9 133.7h0M209.4 138.4h0M189.1 138.7h0M212.1 136.6h0M190.0 130.5h0M196.6 141.3h0M199.1 131.7h0M204.4 142.6h0M194.3 134.5h0M188.1 133.6h0M186.6 141.1h0M183.4 136.9h0M187.7 129.4h0M202.0 138.1h0M203.3 132.5h0M200.9 133.3h0M194.9 141.4h0M190.3 126.8h0M202.8 129.4h0M204.3 134.4h0M218.0 136.4h0M187.3 126.1h0M190.0 126.6h0M192.5 127.2h0M222.4 136.8h0M202.2 135.6h0M185.4 131.1h0M200.3 131.0h0M190.9 125.6h0M187.3 142.5h0M225.2 135.6h0M186.7 141.1h0M210.5 141.9h0M196.0 135.5h0M194.2 140.7h0M191.9 135.8h0M185.9 132.9h0M206.1 140.8h0M191.0 126.7h0M195.9 140.1h0M192.5 136.0h0M186.9 132.4h0M208.7 131.6h0M225.4 135.4h0M198.2 128.5h0M211.5 134.6h0M191.1 123.9h0M214.2 135.3h0M231.4 136.8h0M191.0 131.8h0M191.5 138.5h0M189.4 136.9h0M211.8 138.0h0M219.6 135.1h0M193.6 142.2h0M197.9 140.5h0M200.8 138.9h0M214.5 134.4h0M180.9 132.6h0M185.0 140.8h0M184.8 141.4h0M192.2 125.9h0M219.4 136.9h0M201.0 135.2h0M205.9 134.6h0M204.5 131.4h0M198.9 125.4h0M185.7 133.8h0M189.9 138.0h0M197.4 134.4h0M195.0 140.4h0M200.8 132.2h0M191.6 132.1h0M194.4 134.6h0M184.3 127.9h0M188.0 141.3h0M194.3 134.0h0M192.2 134.4h0M186.1 134.0h0M218.8 135.4h0M227.0 135.1h0M183.8 132.6h0M194.0 133.0h0M195.0 135.3h0M199.8 132.9h0M207.2 137.2h0M190.1 140.7h0M189.1 130.2h0M199.2 143.1h0M190.4 124.1h0M184.7 132.7h0M198.5 138.3h0M209.6 134.4h0M188.8 130.3h0M192.0 127.1h0M219.3 134.6h0M217.5 135.6h0M186.7 129.8h0M213.0 133.8h0M205.4 133.2h0M191.3 127.5h0M193.7 135.0h0M207.8 133.5h0M227.1 135.7h0M221.6 137.9h0M204.0 142.1h0M217.8 137.2h0M201.7 133.1h0M194.3 140.4h0M223.4 137.6h0M210.2 136.5h0M193.4 139.7h0M181.8 139.4h0M194.1 142.0h0M200.2 132.3h0M185.6 140.6h0M194.0 142.4h0M210.6 136.7h0M197.7 125.7h0M197.5 137.7h0M192.6 132.6h0M196.7 133.7h0M199.7 144.5h0M193.9 141.9h0M196.8 131.2h0M195.8 137.4h0M226.4 136.9h0M210.6 139.5h0M221.3 137.3h0M193.4 135.8h0M201.4 132.6h0M208.1 135.9h0M194.2 127.6h0M199.0 141.7h0M184.2 127.9h0M193.4 132.9h0M185.5 140.0h0M191.5 141.7h0M184.9 135.9h0M188.2 136.8h0M225.1 136.3h0M215.9 136.3h0M184.5 141.5h0M210.7 134.1h0M195.1 133.0h0M207.9 141.1h0M207.0 134.6h0M209.8 132.3h0M206.9 136.7h0M220.4 137.6h0M186.3 128.6h0M196.1 129.7h0M205.7 129.2h0M198.8 138.0h0M200.2 141.5h0M187.7 139.1h0M201.8 130.5h0M204.2 137.8h0M190.3 129.8h0M205.8 134.6h0M192.4 137.0h0M198.7 138.0h0M199.2 134.6h0M202.1 131.5h0M195.7 141.8h0M194.7 137.2h0M202.3 136.8h0M205.6 129.4h0M199.2 135.1h0M204.0 137.7h0M194.4 133.0h0M198.2 131.6h0M195.0 131.7h0M204.5 138.6h0M202.6 139.8h0M199.4 130.3h0M195.8 134.7h0M203.9 138.2h0M194.6 137.3h0M196.3 136.0h0M203.4 139.1h0M196.4 134.8h0M201.0 132.6h0M199.4 136.0h0M190.9 131.8h0M210.2 135.5h0M196.2 127.7h0M194.3 135.8h0M202.2 135.5h0M201.8 131.9h0M206.7 130.1h0M201.4 133.1h0M190.6 137.1h0M197.6 136.4h0M205.1 134.6h0M195.7 133.3h0M198.6 138.9h0M203.1 139.4h0M202.6 131.4h0M203.4 137.3h0M198.3 135.6h0M197.4 129.7h0M198.5 136.6h0M197.2 126.3h0M195.0 137.7h0M200.0 137.8h0M195.3 132.6h0M194.1 131.3h0M201.4 134.5h0M196.6 135.0h0M192.6 132.7h0M191.6 128.8h0M192.3 130.2h0M206.6 138.7h0M205.0 132.0h0M202.0 130.1h0M196.3 134.8h0M191.2 134.7h0M201.9 126.9h0M187.0 133.0h0M198.3 134.5h0M193.4 136.0h0M199.5 131.5h0M206.9 134.9h0M202.5 140.4h0M196.5 133.2h0M190.5 133.2h0M201.1 142.6h0M201.7 134.7h0M192.8 131.1h0M189.9 129.2h0M199.5 135.0h0M194.5 133.2h0M195.0 136.1h0M202.0 132.1h0M196.7 129.8h0M196.6 141.5h0M198.9 137.0h0M201.7 139.1h0M197.3 130.9h0M204.0 137.2h0M195.7 137.8h0M198.9 133.8h0M207.9 135.8h0M200.4 132.9h0M199.9 137.6h0M201.1 131.4h0M201.1 133.6h0M200.4 133.3h0M188.3 128.4h0M197.0 126.4h0M191.6 141.0h0M202.3 132.4h0M200.5 126.3h0M200.1 137.4h0M199.8 129.5h0M203.6 132.2h0M196.1 134.7h0M197.4 141.1h0M198.2 141.4h0M201.1 129.7h0M198.9 134.2h0M205.9 138.4h0M196.8 142.1h0M194.5 135.2h0M206.8 130.5h0M197.2 131.4h0M201.5 135.4h0M198.7 136.3h0M195.1 132.7h0M201.2 141.0h0M198.7 134.2h0M205.3 134.3h0M205.3 134.8h0M204.6 134.6h0M194.4 131.0h0M201.0 140.5h0M208.0 132.9h0M194.8 137.2h0M191.5 137.2h0M200.8 136.2h0M193.0 135.3h0M203.5 133.8h0M204.0 134.1h0M200.6 132.9h0M192.3 133.4h0M201.4 131.4h0M189.4 128.6h0M205.4 133.2h0M195.2 138.3h0M198.1 128.8h0M196.8 130.9h0M198.0 130.8h0M199.3 135.6h0M196.1 133.3h0M198.2 136.9h0M195.4 136.6h0M205.0 133.3h0M194.2 132.9h0M190.2 132.1h0M193.1 133.4h0M197.1 135.8h0M199.5 135.5h0M198.7 135.0h0M193.4 136.3h0M205.3 137.9h0M192.3 135.5h0M190.9 136.6h0M197.9 132.4h0M195.3 133.2h0M198.9 130.6h0M199.2 134.9h0M201.5 133.8h0M198.9 142.1h0M203.9 135.1h0M192.1 136.2h0M198.1 135.3h0M199.1 134.3h0M198.2 138.8h0M200.8 133.0h0M197.8 141.3h0M194.7 132.2h0M200.5 134.5h0M200.4 138.7h0M204.5 135.5h0M199.1 133.8h0M197.8 137.5h0M192.7 130.4h0M196.7 130.6h0M195.3 138.2h0M187.9 136.0h0M192.5 133.2h0M196.1 130.5h0M191.6 134.3h0M184.4 126.6h0M197.0 137.8h0M208.1 133.0h0M195.0 133.0h0M201.2 137.3h0M194.2 135.7h0M198.8 138.0h0M196.9 133.3h0M194.7 129.4h0M200.3 136.5h0M204.5 134.9h0M196.7 130.8h0M193.2 131.5h0M200.6 134.3h0M187.6 133.6h0M197.5 130.3h0M198.8 135.9h0M193.8 129.3h0M197.3 134.9h0M197.7 139.4h0M199.7 130.5h0M202.8 131.7h0M202.3 134.3h0M205.0 130.5h0M202.5 135.5h0M194.5 136.5h0M210.1 135.3h0M195.2 133.5h0M205.4 134.9h0M206.3 131.7h0M198.1 133.0h0M196.5 138.3h0M196.0 135.2h0M208.1 136.9h0M196.9 131.4h0M189.0 135.3h0M203.3 137.9h0M200.2 141.5h0M194.6 136.8h0M197.0 136.9h0M209.9 133.7h0M191.7 134.3h0M203.4 132.0h0M206.8 130.9h0M198.0 137.2h0M197.9 132.0h0M198.9 136.3h0M207.6 138.8h0M208.3 133.9h0M190.7 133.9h0M196.9 130.5h0M196.4 133.8h0M199.2 137.2h0M194.4 138.0h0M199.2 136.6h0M205.2 129.7h0M206.9 131.5h0M201.0 137.8h0M203.6 128.5h0M199.8 138.0h0M198.4 133.7h0M199.3 139.8h0M196.3 130.7h0M193.5 132.1h0M197.8 135.2h0M198.6 128.0h0M191.1 136.4h0M202.6 129.3h0M210.6 136.1h0M190.7 135.8h0M198.8 132.4h0M197.2 133.2h0M198.5 130.8h0M196.2 136.0h0M201.6 129.3h0M196.5 139.5h0M202.6 139.8h0M192.2 130.4h0M188.2 127.2h0M197.1 130.3h0M193.6 131.6h0M198.1 136.9h0M201.8 127.8h0M206.4 132.8h0M194.0 133.9h0M197.0 129.1h0M206.8 132.0h0M196.0 135.9h0M207.4 135.7h0M194.5 135.5h0M204.5 135.3h0M202.2 132.3h0M198.6 128.1h0M195.4 130.0h0M199.0 139.2h0M187.7 129.4h0M194.3 133.7h0M204.8 131.3h0M195.1 138.3h0M200.9 135.9h0M203.2 131.4h0M200.1 131.7h0M195.4 134.5h0M201.2 129.5h0M195.1 136.1h0M199.8 136.3h0M197.4 131.2h0M202.9 136.1h0M184.8 137.0h0M195.2 136.3h0M206.9 133.0h0M194.1 134.9h0M199.4 136.0h0M192.0 134.9h0M203.5 136.5h0M202.1 138.2h0M194.9 138.3h0M227.5 135.9h0M216.3 136.9h0M218.4 135.6h0M217.2 135.7h0M230.6 136.9h0M223.6 136.1h0M225.8 136.1h0M226.6 137.0h0M222.7 135.7h0M216.9 136.8h0M222.5 136.3h0M223.4 136.8h0M226.2 135.7h0M225.7 136.3h0M221.7 136.9h0M215.1 136.4h0M224.1 136.2h0M221.4 135.9h0M220.5 136.5h0M228.8 137.6h0M219.5 135.8h0M217.1 136.2h0M226.7 134.5h0M229.6 136.0h0M229.5 136.4h0M228.0 136.7h0M216.7 136.3h0M226.3 136.1h0M215.9 137.6h0M223.3 137.1h0M222.2 137.6h0M218.6 136.3h0M226.3 135.9h0M220.0 136.9h0M218.6 136.3h0M218.0 137.0h0M229.0 135.8h0M228.0 137.0h0M225.9 137.3h0M229.9 137.7h0M228.4 135.8h0M225.3 137.5h0M215.5 135.8h0M223.7 137.1h0M230.2 136.7h0M230.7 135.2h0M220.5 136.5h0M227.8 136.4h0M216.4 135.8h0M216.1 136.5h0M225.2 136.5h0M218.9 136.0h0M227.3 136.3h0M219.9 136.4h0M230.1 136.3h0M222.2 137.0h0M229.2 136.6h0M225.7 135.8h0M215.4 137.1h0M225.1 136.7h0M210.5 145.7h0M210.7 145.3h0M210.7 145.7h0M210.9 145.8h0M209.5 145.2h0M210.2 146.3h0M209.9 146.3h0M211.2 146.1h0" stroke="#00B0F6" stroke-width="0.9" stroke-linecap="round" fill="none"/>
<path d="M184.0 141.7h0M190.3 135.4h0M189.7 133.6h0M191.9 136.9h0M207.4 140.4h0M213.2 133.7h0M200.5 132.0h0M192.6 134.6h0M213.2 126.9h0M206.4 131.5h0" stroke="#7FCF3A" stroke-width="0.9" stroke-linecap="round" fill="none"/>
<path d="M82.8 59.2h0M84.9 62.2h0M79.3 64.6h0M79.9 63.5h0M81.2 65.6h0M86.1 65.4h0M79.5 62.4h0M74.1 63.2h0M77.0 57.8h0M85.1 63.7h0M82.2 67.3h0M73.4 60.7h0M76.1 63.6h0M79.2 67.9h0M76.4 59.2h0M88.4 65.3h0M79.8 60.6h0M77.4 66.3h0M82.4 58.9h0M84.3 61.2h0M79.8 64.7h0M78.8 59.1h0M81.5 68.3h0M74.0 59.0h0M75.9 57.4h0M88.0 64.8h0M81.3 62.5h0M75.5 62.1h0M85.6 63.1h0M85.2 63.6h0M80.4 66.5h0M76.8 60.6h0M87.1 64.3h0M76.5 60.8h0M74.9 57.9h0M77.1 63.9h0M79.8 57.9h0M74.1 62.6h0M74.2 60.4h0M81.1 56.7h0M81.1 66.9h0M81.6 58.0h0M77.2 57.2h0M84.1 66.4h0M78.1 66.6h0M80.7 58.1h0M80.8 64.4h0M73.3 61.6h0M83.1 65.9h0M89.0 65.5h0M76.9 65.1h0M82.5 67.2h0M75.3 64.4h0M74.2 62.2h0M83.7 64.1h0M87.9 65.0h0M83.6 67.5h0M85.4 64.1h0M84.8 66.9h0M79.1 58.4h0M80.0 66.9h0M75.8 58.4h0M75.7 61.2h0M72.7 61.2h0M78.9 56.1h0M87.3 65.3h0M82.2 62.5h0M84.8 63.7h0M88.0 65.7h0M80.0 67.0h0M77.3 60.8h0M76.5 67.0h0M77.5 64.5h0M84.5 66.9h0M83.4 63.0h0M75.7 62.5h0M73.0 59.7h0M76.5 66.9h0M75.5 65.9h0M75.7 60.2h0M82.5 59.3h0M88.3 65.6h0M79.0 58.3h0M87.9 64.5h0M78.4 56.6h0M76.5 56.2h0M75.3 65.6h0M77.2 66.3h0M85.2 64.2h0M81.6 58.1h0M73.8 59.0h0M77.2 62.6h0M86.5 65.8h0M82.7 64.1h0M72.8 58.5h0M75.7 56.5h0M78.7 66.2h0M78.1 68.2h0M78.2 64.0h0M76.8 65.3h0M85.0 66.7h0M74.8 57.9h0M76.0 65.9h0M84.1 65.2h0M74.6 57.7h0M75.6 57.0h0M77.1 57.1h0M75.6 58.1h0M73.4 58.5h0M78.0 57.2h0M77.2 57.4h0M77.5 56.3h0M77.9 56.2h0M73.9 57.4h0M74.5 57.8h0M75.4 57.5h0M74.5 56.7h0M74.5 57.2h0M78.4 56.8h0" stroke="#00BF7D" stroke-width="0.95" stroke-linecap="round" fill="none"/>
<path d="M49.7 93.2h0M53.2 92.4h0M47.8 93.7h0M47.4 93.6h0M46.5 93.2h0M48.5 93.3h0M51.1 93.1h0M51.3 93.1h0M50.5 93.4h0M54.4 92.8h0M54.4 92.9h0M51.9 92.5h0M54.2 93.2h0M56.1 92.1h0M50.8 93.6h0M54.6 92.2h0M51.3 92.8h0M55.1 92.3h0M48.1 93.8h0M48.9 94.3h0M51.9 93.5h0M54.1 92.2h0M48.6 93.7h0M55.1 92.1h0M53.7 92.8h0M55.0 92.8h0M50.5 93.2h0M54.4 92.3h0M51.1 93.2h0M49.3 93.4h0M49.9 94.0h0M52.5 92.8h0M54.1 92.8h0M53.9 92.5h0M47.9 93.2h0" stroke="#FF62BC" stroke-width="0.85" stroke-linecap="round" fill="none"/>
<path d="M71.6 50.8h0M72.3 50.5h0M72.0 50.9h0M72.3 51.3h0M71.0 49.6h0M71.9 51.2h0M71.8 51.3h0M71.8 49.8h0" stroke="#A3A500" stroke-width="0.95" stroke-linecap="round" fill="none"/>
<path d="M120.3 36.9h0M119.8 37.4h0M122.3 34.4h0M119.5 37.3h0M122.3 34.8h0M120.4 37.3h0M120.4 36.9h0M120.5 36.9h0M121.2 35.8h0M119.7 37.1h0" stroke="#9590FF" stroke-width="0.9" stroke-linecap="round" fill="none"/>
<path d="M178.8 118.4h0M178.1 118.2h0M177.5 117.6h0M178.5 119.1h0M179.1 119.0h0M178.1 117.4h0M179.7 119.6h0M178.0 117.7h0M178.0 118.3h0M179.2 119.5h0" stroke="#F8766D" stroke-width="0.9" stroke-linecap="round" fill="none"/>
<path d="M168.3 122.1h0M168.9 122.8h0M169.6 122.9h0M169.5 124.3h0M172.3 127.0h0M169.4 124.8h0M172.5 126.0h0M172.8 127.0h0M171.4 125.2h0M172.2 125.2h0M173.4 127.1h0M170.5 122.6h0M168.7 123.9h0M173.4 126.2h0M170.8 123.3h0M168.1 123.3h0M168.2 122.7h0M169.7 124.3h0M169.8 123.7h0M169.4 123.6h0M170.1 125.0h0M172.9 127.0h0M170.7 126.1h0M170.7 124.2h0M167.0 122.2h0M172.4 126.7h0M171.6 126.1h0M171.9 124.9h0M171.3 125.9h0M170.7 125.5h0M171.3 124.3h0M173.3 126.4h0M171.4 126.5h0M170.9 126.9h0M171.5 125.9h0M171.3 125.9h0M172.1 125.8h0M171.1 126.3h0M174.5 123.6h0M175.5 128.2h0M176.2 124.6h0M169.8 128.5h0" stroke="#D89000" stroke-width="0.95" stroke-linecap="round" fill="none"/>
<path d="M198.6 120.6h0M199.0 120.1h0M199.2 120.5h0M199.4 120.3h0M198.0 120.7h0M199.1 121.6h0M197.8 120.1h0" stroke="#E76BF3" stroke-width="0.7" stroke-linecap="round" fill="none"/>
<path d="M179.7 169.0h0" stroke="#00BFC4" stroke-width="1.1" stroke-linecap="round" fill="none"/>
<polygon points="400.5,24 406,23.3 412,25.2 420,27.3 427,29.3 431,31 432.6,35 431,39 430,42 432,47 435,53 437,58 437.6,64 436,69 432,72.8 427,72.8 423,70 419,65 416,60 411,56.5 405,52.5 399,48.5 395.3,44 395.5,38 397,31 398.5,27" fill="#39B600" fill-opacity="0.10"/>
<path d="M405.2 32.7h0M426.1 69.0h0M403.0 35.3h0M400.2 34.7h0M405.0 44.8h0M405.0 35.4h0M412.9 32.0h0M432.8 53.4h0M408.3 43.1h0M414.3 38.3h0M396.1 31.0h0M401.5 32.6h0M409.3 28.7h0M421.6 33.4h0M416.4 56.6h0M417.0 59.8h0M427.4 46.5h0M404.8 23.5h0M426.3 41.6h0M406.5 28.1h0M431.2 36.4h0M431.8 68.1h0M425.1 34.1h0M432.9 70.6h0M407.3 31.3h0M429.0 67.4h0M410.9 33.7h0M421.2 68.1h0M402.4 49.1h0M434.2 52.2h0M428.9 63.5h0M414.3 57.7h0M423.8 45.0h0M433.8 73.1h0M404.9 45.8h0M399.8 31.0h0M420.9 61.3h0M408.3 27.2h0M419.0 54.5h0M414.5 37.2h0M410.4 35.2h0M430.9 42.9h0M426.5 49.7h0M404.7 37.1h0M422.2 65.8h0M406.3 28.2h0M405.0 42.3h0M425.6 68.6h0M420.1 29.6h0M412.0 30.4h0M407.4 51.8h0M416.0 30.7h0M421.8 53.4h0M408.8 38.6h0M402.6 44.0h0M423.0 56.7h0M412.2 58.2h0M432.0 57.4h0M434.1 62.4h0M423.9 33.2h0M399.6 39.4h0M436.6 60.9h0M397.6 39.8h0M416.0 43.3h0M410.5 27.2h0M399.5 45.3h0M431.9 31.2h0M398.5 33.1h0M428.5 32.7h0M402.1 44.4h0M400.6 28.0h0M415.7 50.5h0M409.7 26.0h0M419.4 31.5h0M423.3 55.6h0M420.1 31.6h0M410.1 33.9h0M423.9 66.6h0M401.1 32.3h0M416.1 32.9h0M396.2 43.9h0M402.9 31.5h0M415.3 50.4h0M424.9 64.9h0M420.7 66.8h0M400.0 29.8h0M399.6 40.3h0M412.3 56.3h0M419.1 43.0h0M412.8 36.2h0M425.6 62.3h0M425.3 45.5h0M412.9 33.7h0M419.4 42.2h0M418.7 48.0h0M407.4 44.5h0M414.5 35.6h0M413.9 46.3h0M417.1 47.4h0M407.9 25.7h0M408.7 41.0h0M404.3 49.5h0M417.0 54.8h0M433.3 57.4h0M430.7 54.6h0M426.6 47.6h0M417.8 62.3h0M402.4 49.4h0M412.8 28.6h0M430.3 37.1h0M414.9 35.0h0M420.0 59.0h0M420.2 52.5h0M431.9 36.2h0M419.1 55.9h0M421.5 67.4h0M424.4 32.6h0M421.4 38.4h0M414.0 30.6h0M421.8 49.9h0M419.6 53.9h0M407.6 30.9h0M409.2 25.7h0M404.8 47.2h0M401.5 32.6h0M417.8 58.3h0M408.2 33.3h0M401.4 41.6h0M406.0 39.8h0M426.6 33.3h0M408.3 45.1h0M432.4 59.6h0M423.5 31.1h0M437.2 62.5h0M407.6 26.8h0M417.6 26.0h0M403.4 50.9h0M401.8 46.8h0M413.7 41.7h0M402.9 42.6h0M417.4 32.0h0M409.0 50.3h0M409.6 25.3h0M417.4 40.4h0M400.2 46.4h0M421.2 41.5h0M426.7 55.5h0M417.0 53.3h0M412.7 49.3h0M427.4 62.1h0M424.8 46.3h0M412.8 40.0h0M425.7 61.5h0M401.9 33.1h0M421.8 29.5h0M432.1 69.1h0M418.8 62.9h0M409.5 55.5h0M428.1 56.0h0M420.7 56.2h0M409.2 28.2h0M421.8 27.4h0M409.3 28.1h0M415.7 49.9h0M424.9 34.8h0M404.1 25.8h0M431.2 71.3h0M428.6 42.8h0M432.7 62.3h0M415.9 37.3h0M402.8 28.1h0M418.4 49.7h0M403.0 49.5h0M398.3 38.5h0M424.2 30.1h0M416.6 30.0h0M436.0 68.9h0M436.5 57.5h0M398.6 40.0h0M436.0 60.9h0M413.0 26.2h0M435.6 57.7h0M422.6 29.5h0M419.3 54.5h0M414.4 41.2h0M401.1 28.2h0M430.2 32.9h0M431.3 35.5h0M407.4 49.6h0M403.9 36.2h0M425.3 62.9h0M409.4 46.9h0M418.7 52.7h0M434.8 50.8h0M409.0 46.6h0M400.5 37.1h0M433.5 69.5h0M408.7 49.2h0M413.4 51.9h0M421.3 31.8h0M434.3 55.6h0M417.4 58.6h0M415.7 58.2h0M412.6 50.1h0M426.7 52.8h0M419.8 42.1h0M410.4 56.2h0M414.4 43.3h0M409.7 37.9h0M422.8 65.7h0M418.0 55.5h0M422.7 42.0h0M395.9 41.0h0M417.3 54.3h0M434.4 56.1h0M422.6 40.6h0M414.1 57.0h0M400.6 25.9h0M409.4 34.4h0M406.4 30.1h0M436.6 60.4h0M411.0 27.8h0M414.0 45.5h0M425.6 68.6h0M420.1 41.5h0M407.2 35.0h0M399.7 38.7h0M416.0 32.3h0M424.9 33.7h0M427.2 32.2h0M397.8 31.4h0M403.9 29.3h0M411.7 43.4h0M409.4 31.5h0M425.5 45.5h0M405.6 38.4h0M410.2 36.8h0M420.7 55.2h0M401.9 33.2h0M430.1 71.7h0M403.6 27.1h0M420.6 27.7h0M430.9 65.0h0M406.9 30.2h0M416.6 59.5h0M400.5 40.7h0M402.6 27.3h0M418.0 38.9h0M434.5 67.7h0M426.2 49.5h0M422.5 40.0h0M415.4 49.7h0M413.3 45.0h0M431.2 72.6h0M426.9 65.2h0M408.0 26.8h0M404.1 48.3h0M427.5 59.1h0M434.6 61.8h0M407.1 26.0h0M415.6 39.8h0M433.6 68.5h0M419.0 61.5h0M426.4 49.4h0M429.0 51.7h0M427.5 51.0h0M408.3 30.8h0M416.2 46.4h0M409.4 29.5h0M430.9 69.3h0M416.7 47.4h0M398.0 44.1h0M421.9 32.4h0M413.9 43.9h0M402.1 43.1h0M411.3 48.9h0M411.6 28.9h0M430.0 32.6h0M418.2 59.5h0M436.4 66.7h0M413.9 31.7h0M415.4 34.9h0M424.2 38.6h0M398.5 31.2h0M422.1 51.0h0M419.4 63.7h0M425.7 45.4h0M432.9 59.7h0M425.6 31.2h0M430.2 60.3h0M400.4 25.4h0M398.5 33.8h0M427.2 61.8h0M425.7 41.0h0M405.3 45.0h0M429.3 60.9h0M410.1 51.4h0M409.0 50.1h0M417.7 30.5h0M430.9 63.5h0M429.0 54.1h0M404.0 47.3h0M407.4 40.9h0M428.9 39.1h0M425.1 53.3h0M431.9 56.7h0M431.6 53.9h0M412.9 32.6h0M427.1 39.0h0M425.2 56.9h0M409.5 36.2h0M422.7 53.0h0M433.8 70.6h0M426.3 51.4h0M417.2 49.6h0M413.1 32.5h0M418.8 42.9h0M430.2 68.1h0M417.7 28.3h0M424.2 45.8h0M433.8 46.8h0M412.4 43.4h0M410.6 36.3h0M416.5 45.0h0M427.2 48.9h0M401.2 35.9h0M418.8 56.0h0M422.3 61.0h0M431.1 69.9h0M429.4 65.3h0M420.7 36.7h0M406.7 47.2h0M399.1 33.4h0M429.5 62.6h0M398.2 31.4h0M429.7 52.0h0M432.6 59.4h0M414.9 48.9h0M417.8 50.9h0M417.5 28.0h0M416.5 32.3h0M427.8 31.2h0M422.1 32.2h0M400.3 31.8h0M401.6 25.1h0M425.8 68.4h0M396.4 42.4h0M408.8 31.7h0M422.8 30.7h0M422.7 30.5h0M406.1 44.8h0M419.1 29.1h0M423.4 57.9h0M419.9 42.8h0M418.6 51.0h0M434.5 61.5h0M406.4 42.0h0M421.7 41.2h0M414.5 28.7h0M402.1 25.0h0M427.5 52.9h0M429.3 34.5h0M405.2 43.9h0M426.4 30.8h0M420.5 51.9h0M415.4 50.7h0M402.6 33.4h0M419.9 42.3h0M397.5 32.8h0M404.5 42.1h0M408.1 38.4h0M398.8 40.5h0M427.3 51.4h0M432.5 53.2h0M423.3 44.6h0M430.1 46.1h0M400.4 35.5h0M423.9 46.6h0M422.9 45.4h0M419.0 40.1h0M416.4 42.5h0M429.7 65.6h0M407.8 41.1h0M430.0 40.5h0M431.2 68.2h0M417.2 44.5h0M408.6 30.8h0M433.7 62.4h0M416.8 59.3h0M429.9 56.9h0M412.9 55.6h0M402.3 35.1h0M402.6 39.1h0M424.8 31.5h0M411.7 54.0h0M428.3 72.3h0M430.8 33.9h0M418.6 53.3h0M418.8 53.0h0M411.3 35.8h0M425.0 66.3h0M423.2 55.5h0M418.7 63.4h0M403.2 43.5h0M418.4 53.4h0M431.2 46.6h0M433.0 59.1h0M412.9 53.9h0M407.0 25.1h0M402.5 40.1h0M414.2 30.2h0M430.3 30.6h0M422.1 29.4h0M424.3 34.3h0M417.0 61.0h0M397.4 32.8h0M434.6 67.5h0M408.2 25.6h0M423.1 32.5h0M432.9 69.1h0M428.3 61.6h0M428.2 64.8h0M427.2 47.5h0M425.7 51.5h0M404.2 35.3h0M425.3 67.4h0M423.5 60.5h0M421.3 32.0h0M406.1 52.4h0M427.1 43.9h0M426.1 38.5h0M408.8 31.1h0M412.6 52.0h0M406.2 25.0h0M424.6 42.4h0M429.5 56.8h0M413.7 56.5h0M425.0 40.0h0M401.2 44.7h0M411.3 39.3h0M427.2 58.9h0M403.6 40.4h0M404.6 31.5h0M405.9 48.0h0M429.3 61.5h0M423.4 35.9h0M401.3 36.2h0M434.8 67.9h0M430.6 65.5h0M415.4 26.8h0M405.5 30.3h0M400.2 30.1h0M408.8 26.3h0M405.0 49.2h0M427.1 50.1h0M422.5 33.0h0M425.5 31.3h0M409.0 40.4h0M432.7 52.1h0M425.3 52.0h0M409.1 39.7h0M413.4 49.0h0M397.2 36.2h0M426.6 42.9h0M412.9 50.5h0M425.0 33.2h0M431.5 51.9h0M427.9 69.9h0M424.7 56.5h0M408.2 35.8h0M427.5 40.9h0M423.4 42.8h0M416.7 31.7h0M410.8 44.6h0M427.8 31.2h0M430.9 60.6h0M409.4 49.2h0M398.3 33.5h0M406.8 51.9h0M424.0 56.3h0M407.5 40.2h0M411.6 37.5h0M403.4 47.7h0M402.8 39.9h0M399.9 33.1h0M418.4 40.5h0M397.6 43.1h0M407.0 26.2h0M407.6 45.1h0M424.0 37.8h0M421.7 46.3h0M405.0 34.7h0M428.4 37.5h0M418.8 32.4h0M420.1 63.1h0M416.3 47.9h0M425.3 46.8h0M418.2 38.4h0M402.2 35.1h0M419.8 49.5h0M436.9 59.6h0M422.3 57.9h0M429.2 58.7h0M429.8 40.5h0M427.7 53.1h0M420.6 65.6h0M427.6 58.7h0M401.5 30.4h0M402.2 33.1h0M405.2 50.4h0M425.2 69.8h0M405.7 29.0h0M431.7 51.6h0M434.8 58.8h0M400.5 41.4h0M403.8 45.7h0M435.6 60.5h0M412.0 54.0h0M428.0 39.6h0M415.5 28.5h0M407.8 27.4h0M424.8 36.6h0M404.8 46.3h0M425.7 44.8h0M414.5 53.0h0M400.8 37.0h0M435.8 62.8h0M405.1 42.0h0M424.3 62.7h0M418.5 36.6h0M428.8 30.3h0M413.9 50.3h0M401.4 34.3h0M420.7 31.5h0M401.6 33.2h0M435.6 66.9h0M408.4 41.2h0M402.2 46.3h0M408.3 38.8h0M413.4 24.9h0M413.4 24.7h0M405.9 34.7h0M411.5 38.5h0M424.3 59.3h0M397.8 29.8h0M427.7 66.3h0M429.3 32.2h0M424.9 35.7h0M430.4 64.8h0M416.1 58.1h0M433.5 67.7h0M422.9 54.8h0M401.8 45.9h0M398.5 26.6h0M423.9 44.0h0M407.3 50.2h0M414.6 32.4h0M433.4 69.7h0M401.8 28.2h0M396.8 45.2h0M415.8 30.3h0M418.0 43.5h0M436.8 58.1h0M437.1 64.8h0M423.5 28.0h0M415.7 44.3h0M422.6 53.2h0M424.8 72.4h0M416.5 52.1h0M427.6 35.4h0M425.0 60.8h0M428.9 32.9h0M433.2 54.6h0M402.1 51.1h0M423.4 43.1h0M410.8 34.9h0M412.0 35.7h0M426.2 68.8h0M409.6 24.7h0M422.5 37.3h0M411.5 40.6h0M410.4 31.3h0M418.9 55.6h0M406.7 46.4h0M412.8 51.4h0M412.8 49.7h0M413.6 38.7h0M430.6 38.0h0M429.3 43.4h0M406.5 32.1h0M424.9 38.5h0M429.5 71.6h0M414.8 41.6h0M397.1 34.1h0M405.0 23.5h0M425.9 56.8h0M430.8 70.1h0M430.9 51.4h0M425.4 28.4h0M423.1 41.0h0M408.8 37.7h0M417.3 31.6h0M408.0 34.9h0M427.5 41.1h0M400.4 46.4h0M398.5 31.6h0M417.8 52.4h0M403.9 32.8h0M417.2 45.5h0M416.1 56.1h0M425.0 29.2h0M408.8 39.0h0M396.3 32.9h0M421.5 45.2h0M432.7 64.4h0M434.9 67.3h0M398.2 43.9h0M416.9 27.4h0M398.3 46.3h0M421.3 44.2h0M415.5 54.3h0M425.1 57.4h0M413.0 31.6h0M403.6 32.7h0M420.6 53.0h0M399.8 50.9h0M420.2 56.9h0M407.0 43.5h0M420.7 64.7h0M416.8 30.1h0M411.7 27.9h0M405.5 39.5h0M412.3 56.7h0M428.3 41.6h0M395.7 41.0h0M425.0 70.9h0M413.9 42.9h0M411.6 54.0h0M395.0 39.4h0M430.9 50.4h0M403.8 41.6h0M414.5 32.2h0M435.5 60.8h0M408.2 33.8h0M405.8 42.8h0M423.9 61.6h0M404.4 42.4h0M425.9 65.1h0M414.4 41.7h0M428.9 55.3h0M431.7 54.3h0M399.7 34.9h0M399.7 40.5h0M414.0 59.0h0M424.9 43.9h0M417.5 40.8h0M402.3 35.9h0M424.0 35.4h0M424.4 70.1h0M430.2 51.5h0M401.5 35.7h0M434.7 66.5h0M404.9 40.9h0M421.8 38.5h0M413.8 47.1h0M431.7 59.6h0M429.1 63.5h0M425.5 67.5h0M399.3 35.7h0M429.3 62.5h0M405.3 51.4h0M412.6 39.2h0M428.4 57.4h0M406.3 47.3h0M403.0 39.6h0M412.0 27.5h0M408.9 39.1h0M408.3 47.4h0M433.6 65.8h0M408.0 29.8h0M426.9 60.0h0M402.0 27.6h0M399.2 44.8h0M399.5 32.4h0M417.7 56.2h0M404.8 26.0h0M402.9 25.0h0M417.9 46.2h0M399.6 31.8h0M425.6 34.8h0M409.3 45.1h0M413.0 37.3h0M402.0 24.6h0M432.7 72.0h0M423.7 33.5h0M418.3 35.5h0M416.3 49.5h0M403.1 46.2h0M424.6 45.4h0M403.1 46.8h0M401.8 43.1h0M417.2 53.7h0M422.8 53.5h0M407.5 33.4h0M431.4 47.2h0M407.7 51.5h0M428.0 72.8h0M398.7 33.3h0M414.8 53.2h0M400.9 47.4h0M412.0 32.2h0M416.2 50.7h0M424.1 62.2h0M412.5 40.6h0M428.8 45.8h0M408.0 27.1h0M433.1 63.6h0M396.5 31.0h0M408.3 25.0h0M426.0 47.9h0M409.5 36.8h0M420.3 45.9h0M399.2 48.5h0M438.1 66.6h0M422.0 66.5h0M415.7 49.4h0M424.1 32.7h0M421.5 48.8h0M408.4 47.8h0M400.1 45.5h0M409.5 30.0h0M424.3 36.6h0M429.3 46.3h0M406.7 54.3h0M404.1 37.4h0M398.3 34.5h0M405.3 31.1h0M412.9 46.0h0M421.2 50.8h0M425.2 53.2h0M400.9 37.4h0M431.4 49.9h0M434.5 68.4h0M409.2 38.4h0M414.1 41.4h0M395.8 41.2h0M428.8 67.7h0M434.7 59.1h0M434.7 62.2h0M423.5 56.4h0M402.1 38.8h0M414.5 37.0h0M399.1 31.8h0M428.0 43.6h0M407.5 36.0h0M408.9 53.2h0M426.6 43.5h0M425.1 52.3h0M428.7 58.9h0M411.8 30.0h0M430.8 31.5h0M403.0 40.7h0M413.3 54.0h0M416.4 56.3h0M429.1 70.5h0M421.7 43.5h0M416.5 40.3h0M430.5 50.5h0M425.6 64.0h0M424.3 67.3h0M414.8 58.2h0M430.7 36.6h0M405.3 31.8h0M419.4 59.7h0M427.4 56.2h0M399.4 38.3h0M427.7 57.3h0M425.2 58.0h0M396.0 36.1h0M407.2 47.4h0M397.8 44.5h0M401.5 39.6h0M409.1 27.4h0M408.7 48.2h0M417.4 43.5h0M429.0 48.7h0M421.7 61.1h0M416.1 43.3h0M425.6 30.5h0M415.8 32.9h0M432.0 62.7h0M419.6 55.3h0M406.9 44.7h0M429.3 36.3h0M427.2 65.5h0M407.2 36.5h0M421.2 42.1h0M422.8 64.2h0M417.7 54.5h0M431.7 34.0h0M414.9 58.6h0M395.9 43.0h0M417.7 45.6h0M408.4 26.9h0M414.3 30.4h0M414.9 31.8h0M414.2 29.8h0M413.7 53.6h0M423.9 30.2h0M399.1 46.2h0M421.7 42.2h0M426.2 40.3h0M430.5 69.0h0M414.1 49.3h0M412.2 32.0h0M420.4 29.3h0M403.3 42.5h0M434.9 57.3h0M423.2 68.2h0M420.0 58.7h0M427.0 44.3h0M412.1 51.2h0M410.2 49.6h0M404.6 40.6h0M399.8 36.6h0M401.3 31.9h0M427.1 54.9h0M399.7 45.7h0M399.1 42.3h0M435.9 61.1h0M403.1 34.9h0M410.5 36.0h0M407.7 35.1h0M409.9 52.0h0M419.1 59.3h0M407.0 24.7h0M404.6 42.5h0M418.8 58.3h0M432.2 59.9h0M435.0 60.5h0M400.6 44.9h0M399.8 38.3h0M399.9 34.6h0M427.4 37.5h0M422.0 63.7h0M401.5 48.3h0M418.3 51.5h0M425.3 66.1h0M429.1 44.3h0M426.8 64.8h0M415.3 47.7h0M431.8 38.3h0M395.5 37.6h0M411.3 54.1h0M429.0 59.7h0M424.6 66.2h0M401.9 44.8h0M406.3 53.7h0M426.3 40.9h0M406.6 27.3h0M421.9 43.9h0M402.8 39.2h0M409.1 28.4h0M421.5 32.8h0M404.9 41.2h0M428.3 53.7h0M422.9 56.0h0M425.3 46.7h0M432.1 72.1h0M406.9 33.9h0M400.0 27.8h0M409.0 44.6h0M427.6 64.1h0M418.5 60.5h0M429.1 59.9h0M407.9 50.0h0M430.4 36.3h0M420.5 30.1h0M415.7 32.7h0M426.4 52.8h0M416.3 54.4h0M429.9 31.3h0M403.4 33.3h0M428.7 70.5h0M412.5 32.4h0M403.6 37.6h0M418.3 48.0h0M421.6 32.1h0M411.0 45.2h0M397.9 38.0h0M420.1 54.4h0M406.4 27.9h0M418.9 30.1h0M426.7 69.9h0M431.6 53.8h0M396.5 37.7h0M412.2 45.2h0M419.8 30.7h0M404.2 25.4h0M413.6 28.6h0M403.5 24.6h0M430.1 34.3h0M416.4 51.7h0M428.6 35.6h0M422.2 58.3h0M418.0 42.5h0M417.3 56.5h0M425.9 62.1h0M413.0 30.7h0M402.9 37.5h0M408.5 30.3h0M416.6 32.3h0M434.8 66.5h0M419.4 40.9h0M404.8 34.2h0M421.1 42.8h0M397.5 29.5h0M428.7 42.5h0M427.7 54.5h0M395.7 40.1h0M404.4 24.3h0M422.4 58.4h0M402.6 46.7h0M406.9 30.2h0M401.2 26.1h0M413.3 30.6h0M424.8 54.8h0M397.5 43.9h0M401.3 48.1h0M409.8 26.2h0M430.6 63.5h0M419.2 44.8h0M419.2 47.8h0M428.4 48.4h0M404.3 51.2h0M427.9 48.5h0M408.4 50.1h0M424.0 32.3h0M413.3 49.9h0M427.8 32.1h0M404.0 48.0h0M401.0 33.6h0M421.7 48.7h0M423.8 63.1h0M416.8 42.4h0M414.2 51.2h0M425.8 66.5h0M420.2 50.5h0M399.1 42.3h0M423.6 29.4h0M410.9 50.3h0M431.1 67.7h0M407.1 53.0h0M411.9 33.9h0M399.1 43.1h0M431.0 63.5h0M413.7 42.2h0M427.3 35.3h0M423.6 67.2h0M410.7 35.2h0M427.6 53.3h0M403.7 47.3h0M428.4 41.4h0M422.8 54.1h0M417.2 45.2h0M405.4 42.3h0M429.1 60.8h0M429.2 58.9h0M432.1 65.6h0M426.5 57.5h0M431.5 68.7h0M433.1 67.3h0M399.5 31.9h0M430.5 50.8h0M398.2 30.1h0M432.7 63.0h0M412.7 56.2h0M407.2 33.3h0M415.0 46.5h0M415.7 58.5h0M409.3 43.2h0M433.1 59.8h0M426.3 63.4h0M412.4 41.2h0M425.9 69.6h0M412.4 46.4h0M407.2 32.7h0M409.1 33.8h0M422.8 51.6h0M427.0 60.1h0M421.0 50.7h0M414.6 39.9h0M408.2 38.9h0M417.2 44.5h0M418.4 56.3h0M419.5 52.3h0M413.3 46.1h0M414.0 40.1h0M410.0 52.2h0M413.6 57.3h0M419.3 49.6h0M417.1 37.6h0M425.8 38.7h0M397.3 32.5h0M408.5 55.5h0M424.6 65.1h0M410.5 53.3h0M403.3 42.8h0M415.5 56.4h0M427.5 41.3h0M408.9 47.4h0M421.6 50.3h0M404.7 43.8h0M433.4 64.8h0M397.2 30.9h0M423.6 31.0h0M428.9 66.5h0M428.5 41.0h0M430.1 37.4h0M412.5 37.4h0M430.3 61.4h0M418.0 49.4h0M408.6 52.5h0M394.4 43.9h0M379.7 48.1h0M390.3 44.5h0M376.1 46.2h0M380.9 45.0h0M393.6 44.6h0M370.4 48.4h0M381.9 47.6h0M390.9 45.3h0M384.0 46.2h0M387.0 43.5h0M375.2 44.6h0M376.3 44.5h0M393.6 43.8h0M376.0 48.6h0M376.4 50.4h0M387.0 44.5h0M380.3 49.3h0M384.8 43.5h0M380.2 43.3h0M385.3 47.4h0M393.7 44.1h0M389.5 44.2h0M387.3 45.1h0M385.7 45.1h0M381.2 43.5h0M387.3 44.3h0M388.2 43.5h0M371.4 48.6h0M373.4 47.9h0M377.3 47.7h0M377.1 48.8h0M379.9 48.8h0M381.0 44.3h0M372.4 49.6h0M368.6 48.0h0M393.5 44.7h0M370.4 49.7h0M384.4 44.7h0M387.4 43.8h0M382.6 44.3h0M389.5 42.3h0M376.0 45.9h0M380.4 47.1h0M393.6 44.8h0M372.7 46.3h0M385.9 45.5h0M385.3 46.5h0M385.6 47.4h0M393.4 43.5h0M381.3 46.6h0M376.6 46.8h0M380.4 45.1h0M388.7 43.7h0M384.7 42.7h0M382.6 46.2h0M386.5 42.4h0M376.6 49.6h0M387.1 42.3h0M384.5 44.1h0M389.9 42.3h0M387.7 45.0h0M387.6 46.3h0M373.5 46.3h0M370.6 45.9h0M383.0 46.3h0M394.4 42.9h0M378.5 46.5h0M389.9 43.3h0M370.9 46.3h0M393.6 45.1h0M382.5 45.4h0M385.8 42.2h0M375.5 46.3h0M378.6 47.2h0M381.7 46.0h0M371.3 47.0h0M391.1 43.0h0M384.8 46.3h0M373.4 49.3h0M379.9 49.9h0M381.9 49.3h0M376.4 50.1h0M375.0 46.2h0M377.3 46.9h0M373.8 48.7h0M376.4 46.6h0M374.8 49.6h0M379.7 49.0h0M373.8 49.2h0M376.6 48.4h0M376.3 46.8h0M377.7 48.2h0M379.9 47.5h0M377.6 48.4h0M374.4 47.5h0M380.1 48.5h0M373.6 47.9h0M377.2 48.1h0M376.9 47.9h0M374.4 47.9h0M379.1 46.7h0M377.9 48.6h0M377.8 47.1h0M375.0 47.3h0M376.2 49.3h0M375.2 47.1h0M375.7 49.1h0M381.2 44.9h0M377.3 45.6h0M373.9 49.5h0M373.4 44.3h0M377.0 48.1h0M372.9 47.8h0M374.1 51.4h0M378.2 49.9h0M381.5 44.7h0M373.8 49.5h0M378.9 49.3h0M380.0 49.8h0M376.1 47.9h0M380.0 47.7h0M380.5 45.5h0M374.6 47.2h0M375.7 46.5h0M377.1 48.1h0M377.5 44.9h0M376.3 46.3h0M378.2 46.9h0M376.1 50.4h0M379.5 46.8h0M373.5 47.7h0M374.9 48.9h0M380.1 48.8h0M377.8 46.8h0M375.7 45.8h0M376.4 47.2h0M373.7 48.6h0M377.4 47.8h0M378.4 48.6h0M420.9 29.3h0M415.0 30.4h0M417.8 28.0h0M418.9 34.7h0M410.7 30.0h0M412.4 27.5h0M425.9 33.6h0M419.5 34.5h0M424.2 32.3h0M409.1 30.4h0M412.1 27.2h0M417.6 32.0h0M416.8 35.2h0M417.3 30.4h0M421.9 35.5h0M426.1 29.8h0M407.3 30.3h0M409.3 29.5h0M419.1 31.9h0M431.5 35.2h0M413.5 31.8h0M423.0 31.8h0M413.3 29.4h0M413.5 35.2h0M422.5 30.8h0M419.0 36.1h0M424.0 33.3h0M418.7 31.1h0M416.7 30.3h0M409.8 31.0h0M431.8 34.8h0M419.9 28.1h0M427.6 33.6h0M401.8 35.2h0M411.9 31.8h0M418.2 32.4h0M416.4 32.1h0M415.5 30.9h0M417.8 28.8h0M429.4 32.7h0M406.7 35.8h0M426.0 33.9h0M423.2 29.0h0M416.4 32.4h0M410.9 34.3h0M408.7 31.4h0M418.5 33.1h0M414.0 31.8h0M418.2 32.6h0M421.2 31.1h0M422.5 32.6h0M417.8 30.6h0M414.2 37.8h0M414.5 34.3h0M420.0 35.3h0M412.2 30.2h0M424.1 31.7h0M418.5 34.5h0M417.8 33.7h0M412.3 31.1h0M416.5 33.1h0M412.4 29.2h0M424.1 32.9h0M413.9 27.4h0M413.3 28.6h0M419.1 34.9h0M416.4 33.0h0M422.7 38.4h0M425.0 30.5h0M417.8 30.9h0M422.2 28.9h0M422.6 29.2h0M410.8 30.6h0M409.2 27.3h0M419.3 27.6h0M415.3 32.9h0M409.2 32.6h0M425.0 31.5h0M419.1 29.6h0M421.7 28.3h0M423.3 29.5h0M416.4 34.4h0M408.6 28.2h0M421.8 34.2h0M413.8 28.3h0M426.3 33.4h0M426.6 29.2h0M422.2 33.3h0M425.3 29.3h0M424.3 32.2h0M416.8 30.2h0M413.1 31.2h0M417.5 28.9h0M422.5 34.1h0M423.2 34.5h0M410.8 34.6h0M422.9 34.4h0M419.4 32.6h0M425.1 33.9h0M411.7 30.5h0M419.0 29.9h0M419.8 32.8h0M420.7 29.8h0M416.7 29.0h0M423.1 30.6h0M416.9 31.1h0M426.6 34.4h0M420.8 29.3h0M423.4 30.9h0M418.7 33.2h0M419.8 35.0h0M430.8 31.4h0M418.1 29.7h0M419.2 32.5h0M422.3 33.6h0M411.9 31.7h0M415.4 31.0h0M416.4 35.1h0M430.0 33.6h0M425.4 32.6h0M422.7 29.6h0M415.9 30.8h0M426.3 33.7h0M425.0 29.2h0M424.6 29.7h0M424.3 35.4h0M418.8 34.0h0M427.9 36.0h0M418.5 33.9h0M423.5 28.5h0M412.9 29.1h0M421.6 27.8h0M423.2 29.6h0M420.9 31.0h0M422.5 29.8h0M428.7 33.8h0M415.9 32.2h0M422.0 34.8h0M418.5 30.4h0M412.0 30.4h0M424.9 36.9h0M414.6 33.7h0M417.4 33.9h0M425.8 30.6h0M415.5 31.5h0M415.9 32.4h0M426.3 35.1h0M424.4 30.1h0M417.2 28.0h0M420.6 31.6h0M418.6 30.2h0M423.2 31.0h0M418.0 31.5h0M419.1 29.6h0M423.1 32.3h0M426.4 36.2h0M418.0 28.0h0M421.1 32.9h0M422.3 31.6h0M418.5 34.7h0M427.0 32.7h0M414.9 31.0h0M425.4 32.4h0M418.7 28.5h0M424.9 35.5h0M425.7 32.7h0M417.5 32.5h0M424.8 31.8h0M400.8 26.7h0M405.7 24.7h0M406.1 27.6h0M403.1 30.2h0M405.5 29.6h0M401.0 28.0h0M402.7 32.2h0M400.2 27.1h0M401.2 32.3h0M398.9 27.8h0M404.5 26.0h0M401.3 26.5h0M405.5 30.1h0M406.6 27.4h0M407.1 30.8h0M399.9 28.6h0M406.5 30.2h0M400.3 29.0h0M400.2 28.5h0M405.5 27.9h0M406.6 28.8h0M404.6 28.4h0M405.9 28.1h0M404.7 30.4h0M405.2 27.9h0M401.2 30.0h0M404.8 30.2h0M402.7 24.4h0M405.3 24.3h0M403.2 29.2h0M408.4 28.4h0M405.3 24.3h0M401.5 26.5h0M407.1 28.8h0M405.9 29.3h0M404.4 24.7h0M408.7 24.9h0M406.8 31.4h0M401.5 25.7h0M406.6 30.0h0M407.9 25.8h0M408.7 26.2h0M406.8 29.0h0M406.7 24.7h0M400.7 28.2h0M401.8 29.5h0M401.9 30.2h0M402.5 27.2h0M406.1 31.1h0M400.9 26.7h0M401.2 27.7h0M406.5 28.0h0M401.5 27.6h0M401.9 26.7h0M403.2 28.4h0M402.2 30.3h0M400.2 25.1h0M406.5 28.7h0M404.2 30.8h0M409.8 24.8h0M399.8 28.0h0M407.2 31.0h0M403.6 31.2h0M404.4 31.0h0M399.1 31.1h0M424.9 67.4h0M429.8 71.0h0M427.5 67.6h0M429.5 68.3h0M431.6 69.8h0M428.3 65.0h0M429.7 66.9h0M431.2 69.2h0M426.9 67.0h0M434.1 64.5h0M427.2 66.6h0M432.6 69.8h0M430.4 64.3h0M434.5 66.2h0M430.3 68.4h0M428.6 64.3h0M430.7 65.0h0M430.8 68.3h0M426.9 64.6h0M427.1 71.5h0M427.6 69.9h0M428.2 64.5h0M429.0 66.9h0M428.1 64.0h0M430.0 64.5h0M428.1 67.0h0M429.7 71.7h0M430.1 65.2h0M429.3 70.3h0M433.0 71.7h0M427.8 65.5h0M430.9 68.6h0M428.5 68.0h0M428.5 66.6h0M433.8 66.3h0M429.1 66.4h0M426.8 70.7h0M432.4 66.4h0M432.6 62.5h0M434.0 67.0h0M430.5 67.1h0M428.6 63.2h0M426.7 72.0h0M426.7 71.8h0M428.2 70.8h0M428.9 67.1h0M432.4 69.2h0M426.1 69.5h0M433.3 70.8h0M430.8 68.6h0M429.1 65.1h0M426.3 66.4h0M432.7 69.7h0M430.6 67.7h0M429.7 67.1h0M428.2 67.7h0M431.0 68.4h0M432.0 70.1h0M429.0 70.2h0M389.5 59.3h0M390.7 61.0h0M394.0 55.4h0M392.6 56.0h0M392.4 57.5h0M393.4 55.8h0M393.2 54.9h0M388.6 60.5h0M392.6 56.9h0M392.0 57.4h0M393.6 55.2h0M393.4 55.1h0M394.4 54.7h0M394.1 55.6h0M392.3 55.0h0M395.2 54.6h0M392.4 57.0h0M389.4 61.6h0M391.2 58.5h0M390.5 59.9h0M394.0 55.0h0M389.4 60.5h0M395.0 54.9h0M392.6 56.1h0M393.0 56.4h0M389.7 62.0h0M391.1 59.2h0M393.4 56.2h0M391.4 58.0h0M393.4 57.2h0M393.2 56.6h0M391.6 58.1h0M389.5 61.0h0M388.7 60.9h0M391.8 59.5h0M392.9 57.2h0M390.3 59.5h0M393.2 54.3h0M391.7 58.9h0M390.7 59.6h0M402.2 58.3h0M399.7 61.5h0M404.3 59.1h0M397.1 60.7h0M403.2 58.9h0M402.6 58.6h0M397.6 60.7h0M398.4 61.2h0M402.3 60.0h0M404.3 58.1h0M399.2 60.7h0M403.6 59.0h0M399.2 59.3h0M402.2 60.4h0M400.2 60.2h0M398.5 60.3h0M401.4 58.2h0M403.4 58.6h0M402.5 59.5h0M399.2 61.4h0M397.7 60.7h0M401.2 60.2h0M397.7 60.4h0M404.5 57.5h0M401.0 60.3h0M401.3 58.2h0M402.7 60.4h0M404.9 58.9h0M404.4 58.7h0M399.6 60.4h0M387.6 45.6h0M386.5 52.9h0M398.1 47.4h0M397.5 59.1h0M393.6 59.0h0M388.8 53.4h0M394.7 40.1h0M399.8 45.7h0M392.8 57.4h0M392.2 42.8h0M399.8 59.1h0M392.4 47.1h0M385.1 46.9h0M399.7 56.6h0M387.2 54.3h0M386.3 50.8h0M399.3 40.6h0M392.5 61.3h0M386.5 49.9h0M397.0 58.5h0" stroke="#39B600" stroke-width="0.85" stroke-linecap="round" fill="none"/>
<path d="M413.0 134.6h0M413.8 135.6h0M435.2 136.6h0M396.8 128.2h0M410.3 136.5h0M395.3 126.0h0M385.2 132.2h0M399.8 129.1h0M389.9 126.5h0M396.9 138.8h0M421.9 136.5h0M399.6 138.2h0M402.7 141.5h0M415.4 133.1h0M400.0 140.8h0M402.1 128.0h0M403.1 141.0h0M414.7 135.2h0M416.2 138.9h0M390.6 140.0h0M409.9 130.1h0M410.5 131.3h0M406.1 141.3h0M392.8 125.8h0M389.5 130.1h0M423.2 137.6h0M414.5 136.4h0M430.3 134.0h0M403.8 128.3h0M402.5 138.3h0M399.0 141.5h0M389.3 130.7h0M407.0 137.0h0M388.0 136.8h0M408.9 138.6h0M395.6 135.7h0M401.9 124.2h0M404.9 130.1h0M403.2 133.2h0M416.4 136.4h0M428.2 134.5h0M399.5 138.8h0M390.7 130.4h0M393.9 125.1h0M404.2 132.1h0M395.1 132.4h0M401.5 135.7h0M417.0 134.1h0M400.0 129.7h0M399.6 130.9h0M392.1 134.0h0M433.8 135.4h0M395.8 124.6h0M400.1 133.2h0M392.1 129.8h0M400.7 134.6h0M410.6 139.4h0M398.3 140.8h0M423.2 134.8h0M415.3 136.2h0M404.6 137.3h0M406.5 141.5h0M389.0 130.4h0M412.7 132.7h0M390.2 138.2h0M409.8 136.3h0M413.1 131.7h0M396.4 140.8h0M409.4 130.3h0M393.1 126.7h0M405.9 136.5h0M432.3 137.1h0M388.1 134.8h0M404.4 142.0h0M401.3 136.5h0M391.7 138.5h0M415.8 135.4h0M390.0 134.5h0M401.3 128.8h0M395.1 138.7h0M413.5 139.0h0M394.5 140.3h0M407.8 139.6h0M401.6 130.6h0M410.4 141.0h0M390.3 129.9h0M412.4 134.1h0M419.3 136.2h0M404.2 132.4h0M395.8 125.3h0M435.7 136.5h0M391.5 138.0h0M406.5 131.7h0M392.5 137.6h0M395.2 126.4h0M409.9 129.2h0M390.7 130.0h0M425.9 135.3h0M395.0 134.7h0M392.2 136.2h0M390.1 140.8h0M402.9 135.8h0M418.6 135.0h0M403.7 130.2h0M393.6 125.7h0M397.3 139.9h0M430.6 134.4h0M402.4 129.7h0M390.6 141.7h0M400.1 141.8h0M399.9 124.8h0M402.2 140.0h0M430.3 135.2h0M412.7 131.8h0M403.9 141.6h0M401.8 141.0h0M395.5 141.2h0M390.9 136.9h0M399.8 126.3h0M401.5 128.3h0M422.1 137.6h0M403.6 134.0h0M401.5 137.8h0M396.7 127.4h0M391.4 133.1h0M395.5 136.9h0M398.9 129.0h0M400.9 134.7h0M415.8 134.2h0M407.0 130.2h0M398.4 133.7h0M403.6 135.8h0M392.4 130.8h0M402.7 138.9h0M432.4 135.4h0M406.3 137.4h0M415.9 133.2h0M410.9 139.6h0M392.7 140.5h0M388.6 135.7h0M433.8 135.6h0M415.8 137.7h0M392.2 129.9h0M404.0 131.8h0M403.0 135.3h0M407.0 128.2h0M419.7 132.6h0M435.9 136.0h0M406.3 130.0h0M389.0 129.8h0M386.7 134.6h0M433.6 136.5h0M414.1 134.1h0M409.5 133.6h0M431.8 136.4h0M401.9 142.3h0M412.3 128.9h0M405.9 134.5h0M429.1 137.1h0M391.0 134.1h0M391.2 126.5h0M391.1 127.5h0M392.5 124.8h0M433.1 135.3h0M393.5 137.5h0M424.7 136.8h0M391.7 138.9h0M407.6 130.5h0M419.3 138.7h0M396.6 134.3h0M398.3 130.4h0M386.6 136.1h0M392.7 131.2h0M391.9 134.6h0M388.9 128.5h0M387.0 131.4h0M433.2 136.0h0M392.6 126.4h0M391.0 139.4h0M405.5 129.1h0M388.0 137.4h0M414.1 136.3h0M390.2 130.8h0M407.1 133.3h0M411.7 136.3h0M407.6 132.1h0M395.0 130.2h0M398.7 132.5h0M396.9 137.8h0M392.7 138.8h0M394.8 133.9h0M387.2 132.3h0M410.7 137.6h0M395.5 137.2h0M389.0 133.5h0M407.0 132.0h0M411.1 129.7h0M422.3 136.2h0M401.0 135.2h0M391.9 132.1h0M394.0 128.1h0M395.7 139.1h0M405.0 128.1h0M395.6 140.3h0M402.7 131.7h0M430.8 135.3h0M387.8 135.0h0M390.2 133.8h0M398.4 138.5h0M414.5 132.7h0M406.6 136.6h0M393.2 142.6h0M390.2 135.9h0M392.6 131.8h0M393.0 132.9h0M395.7 124.3h0M414.9 131.5h0M400.0 135.4h0M411.9 138.9h0M387.1 139.6h0M405.3 126.1h0M393.1 133.2h0M400.7 133.6h0M434.3 135.8h0M397.3 137.3h0M390.7 140.1h0M409.6 139.8h0M412.8 138.9h0M395.3 133.6h0M406.8 134.2h0M389.7 140.4h0M390.9 140.4h0M395.1 124.7h0M406.7 128.3h0M403.5 130.4h0M395.1 136.2h0M409.2 130.3h0M399.3 139.9h0M401.6 128.6h0M420.2 134.0h0M402.7 128.2h0M392.7 129.2h0M403.1 128.3h0M402.1 138.4h0M389.3 132.2h0M387.8 133.4h0M411.9 140.7h0M405.8 132.0h0M393.7 136.3h0M388.2 128.7h0M409.0 131.3h0M433.2 136.1h0M404.7 129.2h0M407.3 133.2h0M397.5 133.2h0M415.4 135.0h0M419.6 136.6h0M402.0 129.0h0M404.1 139.1h0M413.0 140.0h0M391.3 129.8h0M421.7 136.8h0M394.3 130.1h0M391.3 124.0h0M402.7 139.2h0M412.1 132.7h0M396.2 125.3h0M388.2 137.2h0M391.3 140.5h0M413.3 134.4h0M394.6 128.4h0M421.3 136.3h0M410.8 138.7h0M401.2 130.0h0M404.9 126.9h0M395.7 125.9h0M397.7 141.4h0M387.9 132.8h0M392.2 129.6h0M414.9 137.1h0M392.0 124.4h0M399.1 136.6h0M395.8 133.4h0M397.8 125.8h0M389.9 132.9h0M403.1 129.5h0M413.7 133.9h0M389.1 140.3h0M427.2 137.9h0M390.8 133.7h0M392.4 141.1h0M394.0 124.6h0M411.6 132.6h0M408.1 136.5h0M413.9 131.2h0M415.5 137.3h0M389.9 125.6h0M411.2 135.3h0M395.7 129.9h0M434.3 135.0h0M395.4 135.7h0M393.3 141.9h0M397.9 137.5h0M423.2 136.8h0M411.1 134.9h0M402.0 141.8h0M400.2 131.8h0M410.3 131.9h0M401.5 142.5h0M392.6 126.5h0M403.5 135.6h0M422.2 135.6h0M386.3 136.5h0M400.7 141.0h0M389.6 129.7h0M387.1 135.2h0M430.2 134.5h0M387.9 136.3h0M401.0 133.8h0M401.9 141.5h0M406.2 131.4h0M412.7 134.9h0M395.2 137.2h0M408.5 142.3h0M435.0 136.2h0M403.5 133.8h0M392.5 129.8h0M390.2 133.3h0M399.8 128.9h0M395.5 133.8h0M407.4 134.2h0M401.3 127.0h0M400.4 141.0h0M393.2 131.5h0M412.6 129.1h0M397.6 139.7h0M404.2 139.2h0M434.4 136.0h0M399.8 132.1h0M391.6 127.6h0M428.6 136.8h0M426.1 135.4h0M418.7 136.5h0M418.5 136.4h0M430.2 135.8h0M435.4 135.7h0M426.3 136.3h0M430.0 135.7h0M434.9 135.7h0M434.8 135.4h0M423.8 135.5h0M423.1 136.5h0M433.8 135.6h0M423.9 136.1h0M431.5 136.1h0M431.4 135.8h0M433.5 136.6h0M434.3 135.8h0M429.3 136.8h0M422.4 135.7h0M433.3 135.6h0M425.1 136.1h0M418.3 136.3h0M433.9 135.8h0M421.0 136.9h0M428.2 136.4h0M427.6 135.8h0M425.5 136.6h0M434.4 134.7h0M428.0 135.6h0M424.1 136.5h0M430.0 136.5h0M418.4 135.6h0M423.0 136.8h0M435.5 134.9h0M430.0 136.5h0M433.8 135.8h0M431.7 135.6h0M431.4 134.5h0M432.0 135.6h0M431.7 135.9h0M429.5 134.9h0M429.5 136.0h0M432.1 136.8h0M432.5 137.4h0M432.6 137.3h0M432.2 136.2h0M428.4 136.7h0M430.8 135.7h0M429.0 136.9h0M431.0 135.7h0M429.8 135.9h0M431.7 136.4h0M431.2 136.2h0M431.1 135.7h0M432.8 135.9h0M430.1 137.2h0M429.6 135.7h0M431.2 135.9h0M430.9 136.7h0M432.6 135.1h0M433.9 135.2h0M429.4 136.5h0M429.5 135.2h0M432.3 136.4h0M387.8 134.6h0M388.3 133.1h0M387.1 133.8h0M387.2 133.7h0M388.2 133.7h0M386.4 134.8h0M387.5 133.8h0M386.3 133.5h0M386.5 134.8h0M387.1 132.4h0M402.6 130.9h0M408.7 140.6h0M408.2 125.1h0M399.2 132.3h0M419.5 130.0h0M395.7 125.3h0M387.1 131.0h0M400.2 135.2h0M387.4 143.0h0M414.5 127.5h0M401.3 138.5h0M389.6 128.6h0M393.8 134.9h0M411.2 140.0h0M398.1 124.5h0M389.4 131.3h0M389.1 129.8h0M412.9 133.6h0M396.2 132.3h0M414.6 143.8h0" stroke="#00B0F6" stroke-width="0.85" stroke-linecap="round" fill="none"/>
<path d="M289.9 67.1h0M282.1 59.3h0M294.8 66.1h0M288.0 64.4h0M286.2 67.4h0M286.2 67.9h0M285.7 63.0h0M285.2 61.8h0M291.0 64.3h0M288.5 66.8h0M285.0 62.1h0M286.9 63.1h0M291.8 66.2h0M292.1 63.6h0M279.6 59.6h0M288.5 62.2h0M287.5 64.9h0M280.5 61.2h0M279.8 61.5h0M287.0 68.6h0M285.2 63.4h0M281.3 59.2h0M283.9 63.5h0M282.7 63.5h0M284.7 65.5h0M284.1 60.7h0M291.8 64.9h0M280.6 60.9h0M288.1 67.3h0M288.6 65.3h0M288.8 64.5h0M283.0 64.2h0M283.6 62.1h0M281.3 62.2h0M286.1 62.3h0M287.4 64.5h0M288.1 64.4h0M286.0 60.3h0M287.7 61.0h0M285.7 61.5h0M284.8 63.5h0M283.6 64.6h0M285.3 64.3h0M282.4 61.8h0M287.6 62.0h0M282.3 63.8h0M283.6 65.9h0M287.0 67.4h0M287.8 62.4h0M291.6 66.2h0M288.7 68.2h0M283.6 66.6h0M292.2 63.2h0M290.2 66.3h0M289.6 67.4h0M284.3 63.6h0M286.8 66.3h0M287.4 64.0h0M290.0 66.1h0M291.1 66.3h0M279.2 58.3h0M282.3 62.3h0M284.8 62.3h0M294.0 66.2h0M280.7 61.3h0M284.2 62.4h0M288.4 65.9h0M288.5 64.0h0M290.3 64.3h0M292.5 63.5h0M280.0 58.7h0M279.1 58.1h0M279.8 59.0h0M281.4 59.2h0M280.9 59.0h0M282.0 60.2h0M278.4 57.8h0M282.1 60.1h0M280.4 58.2h0M278.7 57.4h0M279.0 58.8h0M282.2 59.4h0M277.7 58.3h0M281.7 59.5h0M280.9 60.0h0M294.5 66.8h0M296.2 66.2h0M289.5 58.5h0" stroke="#00BF7D" stroke-width="0.9" stroke-linecap="round" fill="none"/>
<path d="M256.5 94.5h0M258.7 93.2h0M258.5 93.0h0M262.0 93.1h0M262.1 91.7h0M259.1 93.5h0M253.1 94.6h0M261.3 93.3h0M256.6 94.1h0M260.5 92.1h0M261.6 92.2h0M252.6 95.3h0M259.9 91.8h0M253.0 94.6h0M256.7 94.0h0M257.5 93.2h0M261.1 92.7h0M256.5 93.5h0M255.8 93.8h0M261.4 92.6h0M257.9 94.0h0M252.5 94.2h0M255.8 94.3h0M260.1 93.3h0M260.3 93.8h0M252.4 95.0h0M252.2 95.1h0M258.3 93.2h0M260.7 93.8h0M255.7 94.4h0M260.8 92.9h0M258.2 92.8h0M256.6 94.5h0M258.5 93.7h0M252.6 94.4h0M256.1 94.0h0M258.3 93.3h0M252.4 95.4h0M259.6 93.5h0M256.4 92.1h0M255.9 93.5h0M258.2 94.0h0M252.5 93.6h0M255.4 94.5h0M258.4 93.6h0M261.9 92.4h0M255.4 93.6h0M255.0 94.2h0M256.5 93.4h0M252.8 94.2h0M259.5 92.8h0M255.9 94.0h0M261.6 92.2h0M254.8 93.0h0M253.4 95.0h0M261.3 92.7h0M252.4 94.8h0M252.0 94.9h0M262.0 92.5h0M254.5 93.2h0M257.9 94.3h0M256.1 92.8h0M255.3 92.4h0M260.1 93.8h0M257.2 94.1h0M255.3 94.1h0M256.2 92.9h0M255.7 94.0h0M255.0 94.2h0M257.8 92.3h0M254.7 92.7h0M255.3 92.8h0M255.7 92.9h0M258.5 92.8h0M255.9 92.5h0M254.6 92.9h0M255.7 93.1h0M254.4 93.3h0M256.5 93.1h0M258.6 92.0h0M257.2 93.2h0M255.7 93.7h0M256.7 92.2h0M256.4 94.4h0M256.0 94.5h0M259.1 93.8h0M253.1 94.0h0M255.2 93.3h0M256.3 92.2h0M256.9 93.4h0" stroke="#FF62BC" stroke-width="0.95" stroke-linecap="round" fill="none"/>
<path d="M278.0 49.3h0M278.6 51.2h0M279.9 52.1h0M279.0 51.5h0M279.4 52.6h0M278.5 50.3h0M277.6 49.4h0M278.4 50.8h0M278.6 51.3h0M279.3 52.3h0M279.2 52.4h0M278.9 50.5h0" stroke="#A3A500" stroke-width="0.95" stroke-linecap="round" fill="none"/>
<path d="M328.9 36.2h0M328.3 36.3h0M326.2 37.7h0M329.3 35.0h0M327.3 37.0h0M327.2 36.9h0M328.8 35.6h0M330.2 34.5h0M330.6 34.5h0M328.5 35.9h0" stroke="#9590FF" stroke-width="0.8" stroke-linecap="round" fill="none"/>
<path d="M385.3 118.9h0M383.5 117.6h0M384.4 118.6h0M383.8 117.2h0M384.6 118.6h0M385.1 119.7h0M385.7 119.6h0M384.8 117.9h0M381.5 121.5h0M380.5 123.3h0M387.3 119.5h0" stroke="#F8766D" stroke-width="0.9" stroke-linecap="round" fill="none"/>
<path d="M376.5 125.2h0M376.5 126.1h0M377.1 125.8h0M377.1 125.0h0M376.3 126.6h0M377.1 125.1h0M376.8 125.7h0M379.0 126.1h0M376.9 126.8h0M375.8 126.4h0M377.5 125.6h0M377.8 126.3h0M377.3 125.8h0M376.8 125.9h0M378.9 125.3h0M378.6 125.9h0M375.3 122.0h0M380.0 123.3h0M379.2 126.9h0" stroke="#D89000" stroke-width="0.95" stroke-linecap="round" fill="none"/>
<path d="M404.6 119.9h0M405.3 120.4h0M404.7 119.8h0M405.5 121.5h0M403.6 120.6h0M405.1 120.6h0M403.9 121.0h0M403.3 121.2h0M404.5 118.9h0M404.3 119.6h0M404.2 120.0h0M405.4 119.8h0M403.6 119.4h0M404.6 119.8h0M405.4 120.5h0M403.9 120.2h0" stroke="#E76BF3" stroke-width="0.95" stroke-linecap="round" fill="none"/>
<path d="M386.5 168.6h0" stroke="#00BFC4" stroke-width="1.1" stroke-linecap="round" fill="none"/>
<text x="94.20" y="31.85" font-size="7.2" fill="#111111" stroke="#111111">Myoepithelial cells</text>
<text x="45.50" y="48.00" font-size="7.2" fill="#111111" stroke="#111111">Endothelial cells</text>
<text x="81.40" y="78.00" font-size="7.2" fill="#111111" stroke="#111111">Fibroblasts</text>
<text x="186.20" y="80.45" font-size="7.2" fill="#111111" stroke="#111111">Tumor cells</text>
<text x="53.30" y="103.40" font-size="7.2" fill="#111111" stroke="#111111">Stromal cells</text>
<text x="200.50" y="115.20" font-size="7.2" fill="#111111" stroke="#111111">Neutraphils</text>
<text x="130.50" y="137.40" font-size="7.2" fill="#111111" stroke="#111111">Dendritic cells</text>
<text x="185.30" y="155.20" font-size="7.2" fill="#111111" stroke="#111111">Macrophages</text>
<text x="133.70" y="170.40" font-size="7.2" fill="#111111" stroke="#111111">Leukocytes</text>
<text x="305.90" y="31.80" font-size="7.2" fill="#111111" stroke="#111111">Myoepithelial</text>
<text x="263.90" y="45.40" font-size="7.2" fill="#111111" stroke="#111111">cells Endothelial cells</text>
<text x="274.50" y="78.00" font-size="7.2" fill="#111111" stroke="#111111">Fibroblasts</text>
<text x="381.00" y="74.30" font-size="7.2" fill="#111111" stroke="#111111">Tumor cells</text>
<text x="247.30" y="103.20" font-size="7.2" fill="#111111" stroke="#111111">Stromal cells</text>
<text x="410.00" y="120.10" font-size="7.2" fill="#111111" stroke="#111111">Neutrophils</text>
<text x="334.20" y="136.30" font-size="7.2" fill="#111111" stroke="#111111">Dendritic cells</text>
<text x="386.60" y="153.15" font-size="7.2" fill="#111111" stroke="#111111">Macrophages</text>
<text x="344.70" y="171.30" font-size="7.2" fill="#111111" stroke="#111111">Leukocytes</text>
<text x="149.80" y="114.00" font-size="7.2" fill="#111111" stroke="#111111">CD8<tspan font-size="3.9" dy="-2.6">+</tspan><tspan dy="2.6"> T cells</tspan></text>
<text x="357.10" y="114.00" font-size="7.2" fill="#111111" stroke="#111111">CD8<tspan font-size="3.9" dy="-2.6">+</tspan><tspan dy="2.6"> T cells</tspan></text>
<circle cx="455.80" cy="42.20" r="1.65" fill="#F8766D"/>
<text x="461.6" y="44.80" font-size="7.2" fill="#111111" stroke="#111111">CD8<tspan font-size="3.9" dy="-2.6">+</tspan><tspan dy="2.6"> T cells</tspan></text>
<circle cx="455.80" cy="53.21" r="1.65" fill="#D89000"/>
<text x="461.60" y="55.81" font-size="7.2" fill="#111111" stroke="#111111">Dendritic cells</text>
<circle cx="455.80" cy="64.22" r="1.65" fill="#A3A500"/>
<text x="461.60" y="66.82" font-size="7.2" fill="#111111" stroke="#111111">Tumor cells</text>
<circle cx="455.80" cy="75.23" r="1.65" fill="#39B600"/>
<text x="461.60" y="77.83" font-size="7.2" fill="#111111" stroke="#111111">Epithelial cells</text>
<circle cx="455.80" cy="86.24" r="1.65" fill="#00BF7D"/>
<text x="461.60" y="88.84" font-size="7.2" fill="#111111" stroke="#111111">Fibroblasts</text>
<circle cx="455.80" cy="97.25" r="1.65" fill="#00BFC4"/>
<text x="461.60" y="99.85" font-size="7.2" fill="#111111" stroke="#111111">Leukocytes</text>
<circle cx="455.80" cy="108.26" r="1.65" fill="#00B0F6"/>
<text x="461.60" y="110.86" font-size="7.2" fill="#111111" stroke="#111111">Macrophages</text>
<circle cx="455.80" cy="119.27" r="1.65" fill="#9590FF"/>
<text x="461.60" y="121.87" font-size="7.2" fill="#111111" stroke="#111111">Myoepithelial cells</text>
<circle cx="455.80" cy="130.28" r="1.65" fill="#E76BF3"/>
<text x="461.60" y="132.88" font-size="7.2" fill="#111111" stroke="#111111">Neutraphils</text>
<circle cx="455.80" cy="141.29" r="1.65" fill="#FF62BC"/>
<text x="461.60" y="143.89" font-size="7.2" fill="#111111" stroke="#111111">Stromal cells</text>
<text x="0.60" y="204.90" font-size="11.5" font-weight="bold" fill="#000" stroke="#000">B</text>
<line x1="76.67" y1="215.40" x2="76.67" y2="535.60" stroke="#efefef" stroke-width="0.5"/>
<line x1="105.62" y1="215.40" x2="105.62" y2="535.60" stroke="#efefef" stroke-width="0.5"/>
<line x1="134.57" y1="215.40" x2="134.57" y2="535.60" stroke="#efefef" stroke-width="0.5"/>
<line x1="163.53" y1="215.40" x2="163.53" y2="535.60" stroke="#efefef" stroke-width="0.5"/>
<line x1="192.48" y1="215.40" x2="192.48" y2="535.60" stroke="#efefef" stroke-width="0.5"/>
<line x1="62.20" y1="215.40" x2="62.20" y2="535.60" stroke="#efefef" stroke-width="0.6"/>
<line x1="91.15" y1="215.40" x2="91.15" y2="535.60" stroke="#efefef" stroke-width="0.6"/>
<line x1="120.10" y1="215.40" x2="120.10" y2="535.60" stroke="#efefef" stroke-width="0.6"/>
<line x1="149.05" y1="215.40" x2="149.05" y2="535.60" stroke="#efefef" stroke-width="0.6"/>
<line x1="178.00" y1="215.40" x2="178.00" y2="535.60" stroke="#efefef" stroke-width="0.6"/>
<line x1="206.95" y1="215.40" x2="206.95" y2="535.60" stroke="#efefef" stroke-width="0.6"/>
<line x1="55.20" y1="223.40" x2="213.40" y2="223.40" stroke="#efefef" stroke-width="0.6"/>
<line x1="55.20" y1="236.10" x2="213.40" y2="236.10" stroke="#efefef" stroke-width="0.6"/>
<line x1="55.20" y1="248.81" x2="213.40" y2="248.81" stroke="#efefef" stroke-width="0.6"/>
<line x1="55.20" y1="261.51" x2="213.40" y2="261.51" stroke="#efefef" stroke-width="0.6"/>
<line x1="55.20" y1="274.22" x2="213.40" y2="274.22" stroke="#efefef" stroke-width="0.6"/>
<line x1="55.20" y1="286.92" x2="213.40" y2="286.92" stroke="#efefef" stroke-width="0.6"/>
<line x1="55.20" y1="299.62" x2="213.40" y2="299.62" stroke="#efefef" stroke-width="0.6"/>
<line x1="55.20" y1="312.33" x2="213.40" y2="312.33" stroke="#efefef" stroke-width="0.6"/>
<line x1="55.20" y1="325.03" x2="213.40" y2="325.03" stroke="#efefef" stroke-width="0.6"/>
<line x1="55.20" y1="337.74" x2="213.40" y2="337.74" stroke="#efefef" stroke-width="0.6"/>
<line x1="55.20" y1="350.44" x2="213.40" y2="350.44" stroke="#efefef" stroke-width="0.6"/>
<line x1="55.20" y1="363.14" x2="213.40" y2="363.14" stroke="#efefef" stroke-width="0.6"/>
<line x1="55.20" y1="375.85" x2="213.40" y2="375.85" stroke="#efefef" stroke-width="0.6"/>
<line x1="55.20" y1="388.55" x2="213.40" y2="388.55" stroke="#efefef" stroke-width="0.6"/>
<line x1="55.20" y1="401.26" x2="213.40" y2="401.26" stroke="#efefef" stroke-width="0.6"/>
<line x1="55.20" y1="413.96" x2="213.40" y2="413.96" stroke="#efefef" stroke-width="0.6"/>
<line x1="55.20" y1="426.66" x2="213.40" y2="426.66" stroke="#efefef" stroke-width="0.6"/>
<line x1="55.20" y1="439.37" x2="213.40" y2="439.37" stroke="#efefef" stroke-width="0.6"/>
<line x1="55.20" y1="452.07" x2="213.40" y2="452.07" stroke="#efefef" stroke-width="0.6"/>
<line x1="55.20" y1="464.78" x2="213.40" y2="464.78" stroke="#efefef" stroke-width="0.6"/>
<line x1="55.20" y1="477.48" x2="213.40" y2="477.48" stroke="#efefef" stroke-width="0.6"/>
<line x1="55.20" y1="490.18" x2="213.40" y2="490.18" stroke="#efefef" stroke-width="0.6"/>
<line x1="55.20" y1="502.89" x2="213.40" y2="502.89" stroke="#efefef" stroke-width="0.6"/>
<line x1="55.20" y1="515.59" x2="213.40" y2="515.59" stroke="#efefef" stroke-width="0.6"/>
<line x1="55.20" y1="528.30" x2="213.40" y2="528.30" stroke="#efefef" stroke-width="0.6"/>
<rect x="55.20" y="215.40" width="158.20" height="320.20" fill="none" stroke="#d4d4d4" stroke-width="0.9"/>
<line x1="53.60" y1="223.40" x2="55.20" y2="223.40" stroke="#555" stroke-width="0.6"/>
<text x="51.30" y="225.95" font-size="7.2" text-anchor="end" fill="#262626" stroke="#262626">GO:0051255</text>
<line x1="53.60" y1="236.10" x2="55.20" y2="236.10" stroke="#555" stroke-width="0.6"/>
<text x="51.30" y="238.65" font-size="7.2" text-anchor="end" fill="#262626" stroke="#262626">GO:0033006</text>
<line x1="53.60" y1="248.81" x2="55.20" y2="248.81" stroke="#555" stroke-width="0.6"/>
<text x="51.30" y="251.36" font-size="7.2" text-anchor="end" fill="#262626" stroke="#262626">GO:0002275</text>
<line x1="53.60" y1="261.51" x2="55.20" y2="261.51" stroke="#555" stroke-width="0.6"/>
<text x="51.30" y="264.06" font-size="7.2" text-anchor="end" fill="#262626" stroke="#262626">GO:0140375</text>
<line x1="53.60" y1="274.22" x2="55.20" y2="274.22" stroke="#555" stroke-width="0.6"/>
<text x="51.30" y="276.77" font-size="7.2" text-anchor="end" fill="#262626" stroke="#262626">GO:0002279</text>
<line x1="53.60" y1="286.92" x2="55.20" y2="286.92" stroke="#555" stroke-width="0.6"/>
<text x="51.30" y="289.47" font-size="7.2" text-anchor="end" fill="#262626" stroke="#262626">GO:0019724</text>
<line x1="53.60" y1="299.62" x2="55.20" y2="299.62" stroke="#555" stroke-width="0.6"/>
<text x="51.30" y="302.17" font-size="7.2" text-anchor="end" fill="#262626" stroke="#262626">GO:0016064</text>
<line x1="53.60" y1="312.33" x2="55.20" y2="312.33" stroke="#555" stroke-width="0.6"/>
<text x="51.30" y="314.88" font-size="7.2" text-anchor="end" fill="#262626" stroke="#262626">GO:0002444</text>
<line x1="53.60" y1="325.03" x2="55.20" y2="325.03" stroke="#555" stroke-width="0.6"/>
<text x="51.30" y="327.58" font-size="7.2" text-anchor="end" fill="#262626" stroke="#262626">GO:0002366</text>
<line x1="53.60" y1="337.74" x2="55.20" y2="337.74" stroke="#555" stroke-width="0.6"/>
<text x="51.30" y="340.29" font-size="7.2" text-anchor="end" fill="#262626" stroke="#262626">GO:0002263</text>
<line x1="53.60" y1="350.44" x2="55.20" y2="350.44" stroke="#555" stroke-width="0.6"/>
<text x="51.30" y="352.99" font-size="7.2" text-anchor="end" fill="#262626" stroke="#262626">GO:0002699</text>
<line x1="53.60" y1="363.14" x2="55.20" y2="363.14" stroke="#555" stroke-width="0.6"/>
<text x="51.30" y="365.69" font-size="7.2" text-anchor="end" fill="#262626" stroke="#262626">GO:0002377</text>
<line x1="53.60" y1="375.85" x2="55.20" y2="375.85" stroke="#555" stroke-width="0.6"/>
<text x="51.30" y="378.40" font-size="7.2" text-anchor="end" fill="#262626" stroke="#262626">GO:0002443</text>
<line x1="53.60" y1="388.55" x2="55.20" y2="388.55" stroke="#555" stroke-width="0.6"/>
<text x="51.30" y="391.10" font-size="7.2" text-anchor="end" fill="#262626" stroke="#262626">GO:0002460</text>
<line x1="53.60" y1="401.26" x2="55.20" y2="401.26" stroke="#555" stroke-width="0.6"/>
<text x="51.30" y="403.81" font-size="7.2" text-anchor="end" fill="#262626" stroke="#262626">GO:0002449</text>
<line x1="53.60" y1="413.96" x2="55.20" y2="413.96" stroke="#555" stroke-width="0.6"/>
<text x="51.30" y="416.51" font-size="7.2" text-anchor="end" fill="#262626" stroke="#262626">GO:0002250</text>
<line x1="53.60" y1="426.66" x2="55.20" y2="426.66" stroke="#555" stroke-width="0.6"/>
<text x="51.30" y="429.21" font-size="7.2" text-anchor="end" fill="#262626" stroke="#262626">GO:0002252</text>
<line x1="53.60" y1="439.37" x2="55.20" y2="439.37" stroke="#555" stroke-width="0.6"/>
<text x="51.30" y="441.92" font-size="7.2" text-anchor="end" fill="#262626" stroke="#262626">GO:0002757</text>
<line x1="53.60" y1="452.07" x2="55.20" y2="452.07" stroke="#555" stroke-width="0.6"/>
<text x="51.30" y="454.62" font-size="7.2" text-anchor="end" fill="#262626" stroke="#262626">GO:0002440</text>
<line x1="53.60" y1="464.78" x2="55.20" y2="464.78" stroke="#555" stroke-width="0.6"/>
<text x="51.30" y="467.33" font-size="7.2" text-anchor="end" fill="#262626" stroke="#262626">GO:0002703</text>
<line x1="53.60" y1="477.48" x2="55.20" y2="477.48" stroke="#555" stroke-width="0.6"/>
<text x="51.30" y="480.03" font-size="7.2" text-anchor="end" fill="#262626" stroke="#262626">GO:0002764</text>
<line x1="53.60" y1="490.18" x2="55.20" y2="490.18" stroke="#555" stroke-width="0.6"/>
<text x="51.30" y="492.73" font-size="7.2" text-anchor="end" fill="#262626" stroke="#262626">GO:0002768</text>
<line x1="53.60" y1="502.89" x2="55.20" y2="502.89" stroke="#555" stroke-width="0.6"/>
<text x="51.30" y="505.44" font-size="7.2" text-anchor="end" fill="#262626" stroke="#262626">GO:0002253</text>
<line x1="53.60" y1="515.59" x2="55.20" y2="515.59" stroke="#555" stroke-width="0.6"/>
<text x="51.30" y="518.14" font-size="7.2" text-anchor="end" fill="#262626" stroke="#262626">GO:0002697</text>
<line x1="53.60" y1="528.30" x2="55.20" y2="528.30" stroke="#555" stroke-width="0.6"/>
<text x="51.30" y="530.85" font-size="7.2" text-anchor="end" fill="#262626" stroke="#262626">GO:0002698</text>
<line x1="62.20" y1="535.60" x2="62.20" y2="537.00" stroke="#555" stroke-width="0.6"/>
<text x="62.20" y="545.50" font-size="7.2" text-anchor="middle" fill="#262626" stroke="#262626">0.2</text>
<line x1="91.15" y1="535.60" x2="91.15" y2="537.00" stroke="#555" stroke-width="0.6"/>
<text x="91.15" y="545.50" font-size="7.2" text-anchor="middle" fill="#262626" stroke="#262626">0.3</text>
<line x1="120.10" y1="535.60" x2="120.10" y2="537.00" stroke="#555" stroke-width="0.6"/>
<text x="120.10" y="545.50" font-size="7.2" text-anchor="middle" fill="#262626" stroke="#262626">0.4</text>
<line x1="149.05" y1="535.60" x2="149.05" y2="537.00" stroke="#555" stroke-width="0.6"/>
<text x="149.05" y="545.50" font-size="7.2" text-anchor="middle" fill="#262626" stroke="#262626">0.5</text>
<line x1="178.00" y1="535.60" x2="178.00" y2="537.00" stroke="#555" stroke-width="0.6"/>
<text x="178.00" y="545.50" font-size="7.2" text-anchor="middle" fill="#262626" stroke="#262626">0.6</text>
<line x1="206.95" y1="535.60" x2="206.95" y2="537.00" stroke="#555" stroke-width="0.6"/>
<text x="206.95" y="545.50" font-size="7.2" text-anchor="middle" fill="#262626" stroke="#262626">0.7</text>
<circle cx="206.50" cy="223.40" r="1.50" fill="#3A00F8"/>
<circle cx="143.90" cy="236.10" r="2.10" fill="#A200BB"/>
<circle cx="129.80" cy="248.81" r="2.50" fill="#FC0012"/>
<circle cx="121.30" cy="261.51" r="2.40" fill="#FC0016"/>
<circle cx="119.90" cy="274.22" r="2.00" fill="#F50030"/>
<circle cx="107.40" cy="286.92" r="2.50" fill="#FC0012"/>
<circle cx="106.70" cy="299.62" r="2.50" fill="#FC0016"/>
<circle cx="102.90" cy="312.33" r="2.30" fill="#A200BB"/>
<circle cx="96.80" cy="325.03" r="2.80" fill="#FD000D"/>
<circle cx="96.60" cy="337.74" r="2.70" fill="#FC0012"/>
<circle cx="94.60" cy="350.44" r="2.70" fill="#DC0069"/>
<circle cx="89.40" cy="363.14" r="2.00" fill="#E50056"/>
<circle cx="88.30" cy="375.85" r="2.80" fill="#FC0012"/>
<circle cx="87.00" cy="388.55" r="2.60" fill="#FC0012"/>
<circle cx="85.60" cy="401.26" r="2.60" fill="#FC0012"/>
<circle cx="84.40" cy="413.96" r="2.80" fill="#FC0012"/>
<circle cx="80.80" cy="426.66" r="3.20" fill="#FD000D"/>
<circle cx="79.00" cy="439.37" r="2.90" fill="#DF0062"/>
<circle cx="79.00" cy="452.07" r="2.70" fill="#D9006D"/>
<circle cx="78.80" cy="464.78" r="2.50" fill="#D40076"/>
<circle cx="78.20" cy="477.48" r="2.90" fill="#ED0044"/>
<circle cx="77.20" cy="490.18" r="2.50" fill="#A200BB"/>
<circle cx="76.00" cy="502.89" r="3.00" fill="#DC0069"/>
<circle cx="75.40" cy="515.59" r="2.90" fill="#FC0016"/>
<circle cx="62.20" cy="528.30" r="2.10" fill="#2000FD"/>
<text x="135.20" y="557.60" font-size="7.2" text-anchor="middle" font-weight="bold" fill="#000" stroke="#000">Gene ratio</text>
<text x="220.80" y="276.80" font-size="7.1" fill="#111111" stroke="#111111">Count</text>
<circle cx="224.60" cy="285.00" r="2.10" fill="#000"/>
<text x="231.00" y="287.55" font-size="7.1" fill="#262626" stroke="#262626">25</text>
<circle cx="224.60" cy="296.00" r="2.50" fill="#000"/>
<text x="231.00" y="298.55" font-size="7.1" fill="#262626" stroke="#262626">50</text>
<circle cx="224.60" cy="306.70" r="2.85" fill="#000"/>
<text x="231.00" y="309.25" font-size="7.1" fill="#262626" stroke="#262626">75</text>
<circle cx="224.60" cy="317.40" r="3.20" fill="#000"/>
<text x="231.00" y="319.95" font-size="7.1" fill="#262626" stroke="#262626">100</text>
<circle cx="224.60" cy="327.90" r="3.50" fill="#000"/>
<text x="231.00" y="330.45" font-size="7.1" fill="#262626" stroke="#262626">125</text>
<text x="218.8" y="381.1" font-size="7.2" fill="#111111" stroke="#111111"><tspan font-style="italic">P</tspan>.adjust</text>
<defs><linearGradient id="gb" x1="0" y1="1" x2="0" y2="0"><stop offset="0.0" stop-color="#FF0000"/><stop offset="0.1" stop-color="#F6002A"/><stop offset="0.2" stop-color="#ED0044"/><stop offset="0.3" stop-color="#E3005B"/><stop offset="0.4" stop-color="#D70072"/><stop offset="0.5" stop-color="#CA0088"/><stop offset="0.6" stop-color="#BA009F"/><stop offset="0.7" stop-color="#A600B7"/><stop offset="0.8" stop-color="#8D00CE"/><stop offset="0.9" stop-color="#6800E7"/><stop offset="1.0" stop-color="#0000FF"/></linearGradient></defs>
<rect x="218.20" y="387.90" width="9.70" height="50.80" fill="url(#gb)"/>
<line x1="218.20" y1="389.90" x2="220.14" y2="389.90" stroke="rgba(255,255,255,0.5)" stroke-width="0.5"/>
<line x1="225.96" y1="389.90" x2="227.90" y2="389.90" stroke="rgba(255,255,255,0.5)" stroke-width="0.5"/>
<text x="230.50" y="392.50" font-size="7.2" fill="#262626" stroke="#262626">0.020</text>
<line x1="218.20" y1="401.90" x2="220.14" y2="401.90" stroke="rgba(255,255,255,0.5)" stroke-width="0.5"/>
<line x1="225.96" y1="401.90" x2="227.90" y2="401.90" stroke="rgba(255,255,255,0.5)" stroke-width="0.5"/>
<text x="230.50" y="404.50" font-size="7.2" fill="#262626" stroke="#262626">0.015</text>
<line x1="218.20" y1="413.70" x2="220.14" y2="413.70" stroke="rgba(255,255,255,0.5)" stroke-width="0.5"/>
<line x1="225.96" y1="413.70" x2="227.90" y2="413.70" stroke="rgba(255,255,255,0.5)" stroke-width="0.5"/>
<text x="230.50" y="416.30" font-size="7.2" fill="#262626" stroke="#262626">0.010</text>
<line x1="218.20" y1="427.30" x2="220.14" y2="427.30" stroke="rgba(255,255,255,0.5)" stroke-width="0.5"/>
<line x1="225.96" y1="427.30" x2="227.90" y2="427.30" stroke="rgba(255,255,255,0.5)" stroke-width="0.5"/>
<text x="230.50" y="429.90" font-size="7.2" fill="#262626" stroke="#262626">0.005</text>
<text x="261.30" y="215.20" font-size="11.5" font-weight="bold" fill="#000" stroke="#000">C</text>
<line x1="343.20" y1="215.30" x2="343.20" y2="365.00" stroke="#efefef" stroke-width="0.5"/>
<line x1="377.80" y1="215.30" x2="377.80" y2="365.00" stroke="#efefef" stroke-width="0.5"/>
<line x1="412.40" y1="215.30" x2="412.40" y2="365.00" stroke="#efefef" stroke-width="0.5"/>
<line x1="447.00" y1="215.30" x2="447.00" y2="365.00" stroke="#efefef" stroke-width="0.5"/>
<line x1="325.90" y1="215.30" x2="325.90" y2="365.00" stroke="#efefef" stroke-width="0.6"/>
<line x1="360.50" y1="215.30" x2="360.50" y2="365.00" stroke="#efefef" stroke-width="0.6"/>
<line x1="395.10" y1="215.30" x2="395.10" y2="365.00" stroke="#efefef" stroke-width="0.6"/>
<line x1="429.70" y1="215.30" x2="429.70" y2="365.00" stroke="#efefef" stroke-width="0.6"/>
<line x1="464.30" y1="215.30" x2="464.30" y2="365.00" stroke="#efefef" stroke-width="0.6"/>
<line x1="314.20" y1="230.60" x2="472.70" y2="230.60" stroke="#efefef" stroke-width="0.6"/>
<line x1="314.20" y1="254.63" x2="472.70" y2="254.63" stroke="#efefef" stroke-width="0.6"/>
<line x1="314.20" y1="278.66" x2="472.70" y2="278.66" stroke="#efefef" stroke-width="0.6"/>
<line x1="314.20" y1="302.69" x2="472.70" y2="302.69" stroke="#efefef" stroke-width="0.6"/>
<line x1="314.20" y1="326.72" x2="472.70" y2="326.72" stroke="#efefef" stroke-width="0.6"/>
<line x1="314.20" y1="350.75" x2="472.70" y2="350.75" stroke="#efefef" stroke-width="0.6"/>
<rect x="314.20" y="215.30" width="158.50" height="149.70" fill="none" stroke="#d4d4d4" stroke-width="0.9"/>
<line x1="312.60" y1="230.60" x2="314.20" y2="230.60" stroke="#555" stroke-width="0.6"/>
<text x="309.10" y="233.15" font-size="7.2" text-anchor="end" fill="#262626" stroke="#262626">GO:0045824</text>
<line x1="312.60" y1="254.63" x2="314.20" y2="254.63" stroke="#555" stroke-width="0.6"/>
<text x="309.10" y="257.18" font-size="7.2" text-anchor="end" fill="#262626" stroke="#262626">GO:0050777</text>
<line x1="312.60" y1="278.66" x2="314.20" y2="278.66" stroke="#555" stroke-width="0.6"/>
<text x="309.10" y="281.21" font-size="7.2" text-anchor="end" fill="#262626" stroke="#262626">GO:0061844</text>
<line x1="312.60" y1="302.69" x2="314.20" y2="302.69" stroke="#555" stroke-width="0.6"/>
<text x="309.10" y="305.24" font-size="7.2" text-anchor="end" fill="#262626" stroke="#262626">GO:0002822</text>
<line x1="312.60" y1="326.72" x2="314.20" y2="326.72" stroke="#555" stroke-width="0.6"/>
<text x="309.10" y="329.27" font-size="7.2" text-anchor="end" fill="#262626" stroke="#262626">GO:0002683</text>
<line x1="312.60" y1="350.75" x2="314.20" y2="350.75" stroke="#555" stroke-width="0.6"/>
<text x="309.10" y="353.30" font-size="7.2" text-anchor="end" fill="#262626" stroke="#262626">GO:0002819</text>
<line x1="325.90" y1="365.00" x2="325.90" y2="366.40" stroke="#555" stroke-width="0.6"/>
<text x="325.20" y="374.40" font-size="7.2" text-anchor="middle" fill="#262626" stroke="#262626">0.200</text>
<line x1="360.50" y1="365.00" x2="360.50" y2="366.40" stroke="#555" stroke-width="0.6"/>
<text x="359.80" y="374.40" font-size="7.2" text-anchor="middle" fill="#262626" stroke="#262626">0.225</text>
<line x1="395.10" y1="365.00" x2="395.10" y2="366.40" stroke="#555" stroke-width="0.6"/>
<text x="394.40" y="374.40" font-size="7.2" text-anchor="middle" fill="#262626" stroke="#262626">0.250</text>
<line x1="429.70" y1="365.00" x2="429.70" y2="366.40" stroke="#555" stroke-width="0.6"/>
<text x="429.00" y="374.40" font-size="7.2" text-anchor="middle" fill="#262626" stroke="#262626">0.275</text>
<line x1="464.30" y1="365.00" x2="464.30" y2="366.40" stroke="#555" stroke-width="0.6"/>
<text x="463.60" y="374.40" font-size="7.2" text-anchor="middle" fill="#262626" stroke="#262626">0.300</text>
<circle cx="465.50" cy="230.60" r="2.30" fill="#F6002A"/>
<circle cx="426.00" cy="254.63" r="3.00" fill="#F6002A"/>
<circle cx="394.70" cy="278.66" r="1.40" fill="#0000FF"/>
<circle cx="346.20" cy="302.69" r="2.60" fill="#2000FD"/>
<circle cx="342.40" cy="326.72" r="3.50" fill="#FD000D"/>
<circle cx="321.20" cy="350.75" r="2.70" fill="#5E00EB"/>
<text x="390.00" y="226.20" font-size="7.2" text-anchor="middle" font-weight="bold" fill="#000" stroke="#000">Macrophages</text>
<text x="481.60" y="239.10" font-size="7.1" fill="#111111" stroke="#111111">Count</text>
<circle cx="487.90" cy="251.10" r="2.10" fill="#000"/>
<text x="493.70" y="253.65" font-size="7.1" fill="#262626" stroke="#262626">20</text>
<circle cx="487.90" cy="262.60" r="2.60" fill="#000"/>
<text x="493.70" y="265.15" font-size="7.1" fill="#262626" stroke="#262626">40</text>
<circle cx="487.90" cy="273.90" r="3.00" fill="#000"/>
<text x="493.70" y="276.45" font-size="7.1" fill="#262626" stroke="#262626">60</text>
<circle cx="487.90" cy="284.80" r="3.40" fill="#000"/>
<text x="493.70" y="287.35" font-size="7.1" fill="#262626" stroke="#262626">80</text>
<text x="481.1" y="304.5" font-size="7.2" fill="#111111" stroke="#111111"><tspan font-style="italic">P</tspan>.adjust</text>
<defs><linearGradient id="gc" x1="0" y1="1" x2="0" y2="0"><stop offset="0.0" stop-color="#FF0000"/><stop offset="0.1" stop-color="#F6002A"/><stop offset="0.2" stop-color="#ED0044"/><stop offset="0.3" stop-color="#E3005B"/><stop offset="0.4" stop-color="#D70072"/><stop offset="0.5" stop-color="#CA0088"/><stop offset="0.6" stop-color="#BA009F"/><stop offset="0.7" stop-color="#A600B7"/><stop offset="0.8" stop-color="#8D00CE"/><stop offset="0.9" stop-color="#6800E7"/><stop offset="1.0" stop-color="#0000FF"/></linearGradient></defs>
<rect x="482.90" y="310.10" width="8.10" height="39.80" fill="url(#gc)"/>
<line x1="482.90" y1="317.60" x2="484.52" y2="317.60" stroke="rgba(255,255,255,0.5)" stroke-width="0.5"/>
<line x1="489.38" y1="317.60" x2="491.00" y2="317.60" stroke="rgba(255,255,255,0.5)" stroke-width="0.5"/>
<text x="496.20" y="320.20" font-size="7.2" fill="#262626" stroke="#262626">0.04</text>
<line x1="482.90" y1="325.70" x2="484.52" y2="325.70" stroke="rgba(255,255,255,0.5)" stroke-width="0.5"/>
<line x1="489.38" y1="325.70" x2="491.00" y2="325.70" stroke="rgba(255,255,255,0.5)" stroke-width="0.5"/>
<text x="496.20" y="328.30" font-size="7.2" fill="#262626" stroke="#262626">0.03</text>
<line x1="482.90" y1="333.90" x2="484.52" y2="333.90" stroke="rgba(255,255,255,0.5)" stroke-width="0.5"/>
<line x1="489.38" y1="333.90" x2="491.00" y2="333.90" stroke="rgba(255,255,255,0.5)" stroke-width="0.5"/>
<text x="496.20" y="336.50" font-size="7.2" fill="#262626" stroke="#262626">0.02</text>
<line x1="482.90" y1="342.00" x2="484.52" y2="342.00" stroke="rgba(255,255,255,0.5)" stroke-width="0.5"/>
<line x1="489.38" y1="342.00" x2="491.00" y2="342.00" stroke="rgba(255,255,255,0.5)" stroke-width="0.5"/>
<text x="496.20" y="344.60" font-size="7.2" fill="#262626" stroke="#262626">0.01</text>
<text x="261.30" y="386.40" font-size="11.5" font-weight="bold" fill="#000" stroke="#000">D</text>
<line x1="327.74" y1="387.60" x2="327.74" y2="536.20" stroke="#efefef" stroke-width="0.5"/>
<line x1="355.26" y1="387.60" x2="355.26" y2="536.20" stroke="#efefef" stroke-width="0.5"/>
<line x1="382.80" y1="387.60" x2="382.80" y2="536.20" stroke="#efefef" stroke-width="0.5"/>
<line x1="410.33" y1="387.60" x2="410.33" y2="536.20" stroke="#efefef" stroke-width="0.5"/>
<line x1="437.86" y1="387.60" x2="437.86" y2="536.20" stroke="#efefef" stroke-width="0.5"/>
<line x1="465.38" y1="387.60" x2="465.38" y2="536.20" stroke="#efefef" stroke-width="0.5"/>
<line x1="341.50" y1="387.60" x2="341.50" y2="536.20" stroke="#efefef" stroke-width="0.6"/>
<line x1="369.03" y1="387.60" x2="369.03" y2="536.20" stroke="#efefef" stroke-width="0.6"/>
<line x1="396.56" y1="387.60" x2="396.56" y2="536.20" stroke="#efefef" stroke-width="0.6"/>
<line x1="424.09" y1="387.60" x2="424.09" y2="536.20" stroke="#efefef" stroke-width="0.6"/>
<line x1="451.62" y1="387.60" x2="451.62" y2="536.20" stroke="#efefef" stroke-width="0.6"/>
<line x1="314.30" y1="392.40" x2="472.50" y2="392.40" stroke="#efefef" stroke-width="0.6"/>
<line x1="314.30" y1="401.08" x2="472.50" y2="401.08" stroke="#efefef" stroke-width="0.6"/>
<line x1="314.30" y1="409.76" x2="472.50" y2="409.76" stroke="#efefef" stroke-width="0.6"/>
<line x1="314.30" y1="418.44" x2="472.50" y2="418.44" stroke="#efefef" stroke-width="0.6"/>
<line x1="314.30" y1="427.12" x2="472.50" y2="427.12" stroke="#efefef" stroke-width="0.6"/>
<line x1="314.30" y1="435.80" x2="472.50" y2="435.80" stroke="#efefef" stroke-width="0.6"/>
<line x1="314.30" y1="444.48" x2="472.50" y2="444.48" stroke="#efefef" stroke-width="0.6"/>
<line x1="314.30" y1="453.16" x2="472.50" y2="453.16" stroke="#efefef" stroke-width="0.6"/>
<line x1="314.30" y1="461.84" x2="472.50" y2="461.84" stroke="#efefef" stroke-width="0.6"/>
<line x1="314.30" y1="470.52" x2="472.50" y2="470.52" stroke="#efefef" stroke-width="0.6"/>
<line x1="314.30" y1="479.20" x2="472.50" y2="479.20" stroke="#efefef" stroke-width="0.6"/>
<line x1="314.30" y1="487.88" x2="472.50" y2="487.88" stroke="#efefef" stroke-width="0.6"/>
<line x1="314.30" y1="496.56" x2="472.50" y2="496.56" stroke="#efefef" stroke-width="0.6"/>
<line x1="314.30" y1="505.24" x2="472.50" y2="505.24" stroke="#efefef" stroke-width="0.6"/>
<line x1="314.30" y1="513.92" x2="472.50" y2="513.92" stroke="#efefef" stroke-width="0.6"/>
<line x1="314.30" y1="522.60" x2="472.50" y2="522.60" stroke="#efefef" stroke-width="0.6"/>
<line x1="314.30" y1="531.28" x2="472.50" y2="531.28" stroke="#efefef" stroke-width="0.6"/>
<rect x="314.30" y="387.60" width="158.20" height="148.60" fill="none" stroke="#d4d4d4" stroke-width="0.9"/>
<line x1="312.70" y1="392.40" x2="314.30" y2="392.40" stroke="#555" stroke-width="0.6"/>
<text x="309.10" y="394.95" font-size="7.2" text-anchor="end" fill="#262626" stroke="#262626">GO:0051231</text>
<line x1="312.70" y1="401.08" x2="314.30" y2="401.08" stroke="#555" stroke-width="0.6"/>
<text x="309.10" y="403.63" font-size="7.2" text-anchor="end" fill="#262626" stroke="#262626">GO:0007094</text>
<line x1="312.70" y1="409.76" x2="314.30" y2="409.76" stroke="#555" stroke-width="0.6"/>
<text x="309.10" y="412.31" font-size="7.2" text-anchor="end" fill="#262626" stroke="#262626">GO:0071173</text>
<line x1="312.70" y1="418.44" x2="314.30" y2="418.44" stroke="#555" stroke-width="0.6"/>
<text x="309.10" y="420.99" font-size="7.2" text-anchor="end" fill="#262626" stroke="#262626">GO:0071174</text>
<line x1="312.70" y1="427.12" x2="314.30" y2="427.12" stroke="#555" stroke-width="0.6"/>
<text x="309.10" y="429.67" font-size="7.2" text-anchor="end" fill="#262626" stroke="#262626">GO:0051255</text>
<line x1="312.70" y1="435.80" x2="314.30" y2="435.80" stroke="#555" stroke-width="0.6"/>
<text x="309.10" y="438.35" font-size="7.2" text-anchor="end" fill="#262626" stroke="#262626">GO:0031577</text>
<line x1="312.70" y1="444.48" x2="314.30" y2="444.48" stroke="#555" stroke-width="0.6"/>
<text x="309.10" y="447.03" font-size="7.2" text-anchor="end" fill="#262626" stroke="#262626">GO:0008608</text>
<line x1="312.70" y1="453.16" x2="314.30" y2="453.16" stroke="#555" stroke-width="0.6"/>
<text x="309.10" y="455.71" font-size="7.2" text-anchor="end" fill="#262626" stroke="#262626">GO:0051225</text>
<line x1="312.70" y1="461.84" x2="314.30" y2="461.84" stroke="#555" stroke-width="0.6"/>
<text x="309.10" y="464.39" font-size="7.2" text-anchor="end" fill="#262626" stroke="#262626">GO:0007051</text>
<line x1="312.70" y1="470.52" x2="314.30" y2="470.52" stroke="#555" stroke-width="0.6"/>
<text x="309.10" y="473.07" font-size="7.2" text-anchor="end" fill="#262626" stroke="#262626">GO:1902850</text>
<line x1="312.70" y1="479.20" x2="314.30" y2="479.20" stroke="#555" stroke-width="0.6"/>
<text x="309.10" y="481.75" font-size="7.2" text-anchor="end" fill="#262626" stroke="#262626">GO:0072686</text>
<line x1="312.70" y1="487.88" x2="314.30" y2="487.88" stroke="#555" stroke-width="0.6"/>
<text x="309.10" y="490.43" font-size="7.2" text-anchor="end" fill="#262626" stroke="#262626">GO:0000922</text>
<line x1="312.70" y1="496.56" x2="314.30" y2="496.56" stroke="#555" stroke-width="0.6"/>
<text x="309.10" y="499.11" font-size="7.2" text-anchor="end" fill="#262626" stroke="#262626">GO:0097431</text>
<line x1="312.70" y1="505.24" x2="314.30" y2="505.24" stroke="#555" stroke-width="0.6"/>
<text x="309.10" y="507.79" font-size="7.2" text-anchor="end" fill="#262626" stroke="#262626">GO:0005819</text>
<line x1="312.70" y1="513.92" x2="314.30" y2="513.92" stroke="#555" stroke-width="0.6"/>
<text x="309.10" y="516.47" font-size="7.2" text-anchor="end" fill="#262626" stroke="#262626">GO:0007052</text>
<line x1="312.70" y1="522.60" x2="314.30" y2="522.60" stroke="#555" stroke-width="0.6"/>
<text x="309.10" y="525.15" font-size="7.2" text-anchor="end" fill="#262626" stroke="#262626">GO:0090307</text>
<line x1="312.70" y1="531.28" x2="314.30" y2="531.28" stroke="#555" stroke-width="0.6"/>
<text x="309.10" y="533.83" font-size="7.2" text-anchor="end" fill="#262626" stroke="#262626">GO:0019730</text>
<line x1="341.50" y1="536.20" x2="341.50" y2="537.60" stroke="#555" stroke-width="0.6"/>
<text x="341.50" y="545.40" font-size="7.2" text-anchor="middle" fill="#262626" stroke="#262626">0.3</text>
<line x1="369.03" y1="536.20" x2="369.03" y2="537.60" stroke="#555" stroke-width="0.6"/>
<text x="369.03" y="545.40" font-size="7.2" text-anchor="middle" fill="#262626" stroke="#262626">0.4</text>
<line x1="396.56" y1="536.20" x2="396.56" y2="537.60" stroke="#555" stroke-width="0.6"/>
<text x="396.56" y="545.40" font-size="7.2" text-anchor="middle" fill="#262626" stroke="#262626">0.5</text>
<line x1="424.09" y1="536.20" x2="424.09" y2="537.60" stroke="#555" stroke-width="0.6"/>
<text x="424.09" y="545.40" font-size="7.2" text-anchor="middle" fill="#262626" stroke="#262626">0.6</text>
<line x1="451.62" y1="536.20" x2="451.62" y2="537.60" stroke="#555" stroke-width="0.6"/>
<text x="451.62" y="545.40" font-size="7.2" text-anchor="middle" fill="#262626" stroke="#262626">0.7</text>
<circle cx="465.60" cy="392.40" r="1.70" fill="#B000AB"/>
<circle cx="457.40" cy="401.08" r="2.40" fill="#D40076"/>
<circle cx="457.40" cy="409.76" r="2.40" fill="#D40076"/>
<circle cx="454.80" cy="418.44" r="2.40" fill="#E3005B"/>
<circle cx="453.90" cy="427.12" r="2.40" fill="#EF003F"/>
<circle cx="451.60" cy="435.80" r="1.50" fill="#B600A4"/>
<circle cx="424.10" cy="444.48" r="2.40" fill="#6800E7"/>
<circle cx="396.30" cy="453.16" r="2.60" fill="#F6002A"/>
<circle cx="390.20" cy="461.84" r="3.00" fill="#FC0016"/>
<circle cx="373.60" cy="470.52" r="2.60" fill="#FA001E"/>
<circle cx="371.70" cy="479.20" r="2.70" fill="#F80024"/>
<circle cx="368.00" cy="487.88" r="2.60" fill="#E3005B"/>
<circle cx="367.50" cy="496.56" r="1.80" fill="#DD0066"/>
<circle cx="363.20" cy="505.24" r="3.30" fill="#FD000D"/>
<circle cx="363.00" cy="513.92" r="2.50" fill="#F6002A"/>
<circle cx="350.50" cy="522.60" r="2.20" fill="#E3005B"/>
<circle cx="321.30" cy="531.28" r="1.80" fill="#2F00FA"/>
<text x="392.20" y="398.90" font-size="7.2" text-anchor="middle" font-weight="bold" fill="#000" stroke="#000">Tumor cells</text>
<text x="392.00" y="557.00" font-size="7.2" text-anchor="middle" font-weight="bold" fill="#000" stroke="#000">Gene ratio</text>
<text x="482.20" y="413.00" font-size="7.1" fill="#111111" stroke="#111111">Count</text>
<circle cx="488.20" cy="422.60" r="2.00" fill="#000"/>
<text x="493.50" y="425.15" font-size="7.1" fill="#262626" stroke="#262626">30</text>
<circle cx="488.20" cy="434.10" r="2.50" fill="#000"/>
<text x="493.50" y="436.65" font-size="7.1" fill="#262626" stroke="#262626">60</text>
<circle cx="488.20" cy="445.40" r="2.90" fill="#000"/>
<text x="493.50" y="447.95" font-size="7.1" fill="#262626" stroke="#262626">90</text>
<circle cx="488.20" cy="456.60" r="3.30" fill="#000"/>
<text x="493.50" y="459.15" font-size="7.1" fill="#262626" stroke="#262626">120</text>
<text x="480.8" y="475.4" font-size="7.2" fill="#111111" stroke="#111111"><tspan font-style="italic">P</tspan>.adjust</text>
<defs><linearGradient id="gd" x1="0" y1="1" x2="0" y2="0"><stop offset="0.0" stop-color="#FF0000"/><stop offset="0.1" stop-color="#F6002A"/><stop offset="0.2" stop-color="#ED0044"/><stop offset="0.3" stop-color="#E3005B"/><stop offset="0.4" stop-color="#D70072"/><stop offset="0.5" stop-color="#CA0088"/><stop offset="0.6" stop-color="#BA009F"/><stop offset="0.7" stop-color="#A600B7"/><stop offset="0.8" stop-color="#8D00CE"/><stop offset="0.9" stop-color="#6800E7"/><stop offset="1.0" stop-color="#0000FF"/></linearGradient></defs>
<rect x="482.90" y="481.30" width="8.10" height="39.90" fill="url(#gd)"/>
<line x1="482.90" y1="489.10" x2="484.52" y2="489.10" stroke="rgba(255,255,255,0.5)" stroke-width="0.5"/>
<line x1="489.38" y1="489.10" x2="491.00" y2="489.10" stroke="rgba(255,255,255,0.5)" stroke-width="0.5"/>
<text x="496.00" y="491.70" font-size="7.2" fill="#262626" stroke="#262626">0.04</text>
<line x1="482.90" y1="497.30" x2="484.52" y2="497.30" stroke="rgba(255,255,255,0.5)" stroke-width="0.5"/>
<line x1="489.38" y1="497.30" x2="491.00" y2="497.30" stroke="rgba(255,255,255,0.5)" stroke-width="0.5"/>
<text x="496.00" y="499.90" font-size="7.2" fill="#262626" stroke="#262626">0.03</text>
<line x1="482.90" y1="505.40" x2="484.52" y2="505.40" stroke="rgba(255,255,255,0.5)" stroke-width="0.5"/>
<line x1="489.38" y1="505.40" x2="491.00" y2="505.40" stroke="rgba(255,255,255,0.5)" stroke-width="0.5"/>
<text x="496.00" y="508.00" font-size="7.2" fill="#262626" stroke="#262626">0.02</text>
<line x1="482.90" y1="513.60" x2="484.52" y2="513.60" stroke="rgba(255,255,255,0.5)" stroke-width="0.5"/>
<line x1="489.38" y1="513.60" x2="491.00" y2="513.60" stroke="rgba(255,255,255,0.5)" stroke-width="0.5"/>
<text x="496.00" y="516.20" font-size="7.2" fill="#262626" stroke="#262626">0.01</text>
</svg>
</body></html>
